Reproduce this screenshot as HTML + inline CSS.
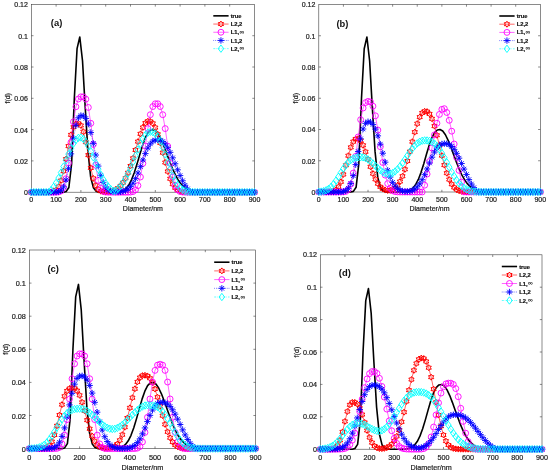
<!DOCTYPE html>
<html lang="en">
<head>
<meta charset="utf-8">
<title>Figure: recovered particle size distributions</title>
<style>
html,body{margin:0;padding:0;background:#fff;}
body{width:550px;height:473px;overflow:hidden;}
svg{display:block;filter:blur(0.3px);}
</style>
</head>
<body>
<svg width="550" height="473" viewBox="0 0 550 473" font-family="'Liberation Sans', Arial, Helvetica, sans-serif">
<rect width="550" height="473" fill="#fff"/>
<defs>
<circle id="mo" r="2.95" fill="none" stroke-width="0.9"/>
<polygon id="mh" points="0,-3 -0.87,-1.5 -2.6,-1.5 -1.73,-0 -2.6,1.5 -0.87,1.5 -0,3 0.87,1.5 2.6,1.5 1.73,0 2.6,-1.5 0.87,-1.5" fill="none" stroke-width="1.0"/>
<path id="ma" d="M-3.2,0H3.2M0,-3.2V3.2M-2.25,-2.25L2.25,2.25M-2.25,2.25L2.25,-2.25" fill="none" stroke-width="0.9"/>
<path id="md" d="M0,-3.7L2.75,0L0,3.7L-2.75,0Z" fill="none" stroke-width="0.9"/>
</defs>
<g id="plot-a">
<rect x="31.3" y="4.4" width="223.2" height="187.8" fill="none" stroke="#3c3c3c" stroke-width="0.6"/>
<path d="M56.1,192.2v-2.2M56.1,4.4v2.2M80.9,192.2v-2.2M80.9,4.4v2.2M105.7,192.2v-2.2M105.7,4.4v2.2M130.5,192.2v-2.2M130.5,4.4v2.2M155.3,192.2v-2.2M155.3,4.4v2.2M180.1,192.2v-2.2M180.1,4.4v2.2M204.9,192.2v-2.2M204.9,4.4v2.2M229.7,192.2v-2.2M229.7,4.4v2.2M31.3,160.9h2.2M254.5,160.9h-2.2M31.3,129.6h2.2M254.5,129.6h-2.2M31.3,98.3h2.2M254.5,98.3h-2.2M31.3,67h2.2M254.5,67h-2.2M31.3,35.7h2.2M254.5,35.7h-2.2" stroke="#3c3c3c" stroke-width="0.6" fill="none"/>
<g font-size="7" fill="#222222" stroke="#222222" stroke-width="0.2">
<g text-anchor="middle">
<text x="31.3" y="201.9">0</text>
<text x="56.1" y="201.9">100</text>
<text x="80.9" y="201.9">200</text>
<text x="105.7" y="201.9">300</text>
<text x="130.5" y="201.9">400</text>
<text x="155.3" y="201.9">500</text>
<text x="180.1" y="201.9">600</text>
<text x="204.9" y="201.9">700</text>
<text x="229.7" y="201.9">800</text>
<text x="254.5" y="201.9">900</text>
</g>
<g text-anchor="end">
<text x="27.9" y="195.15">0</text>
<text x="27.9" y="163.85">0.02</text>
<text x="27.9" y="132.55">0.04</text>
<text x="27.9" y="101.25">0.06</text>
<text x="27.9" y="69.95">0.08</text>
<text x="27.9" y="38.65">0.1</text>
<text x="27.9" y="7.35">0.12</text>
</g>
<text x="142.9" y="211.3" text-anchor="middle">Diameter/nm</text>
<text transform="translate(10.2,98.3) rotate(-90)" text-anchor="middle">f(d)</text>
</g>
<text x="50.8" y="25.9" font-size="9.4" font-weight="bold" fill="#111">(a)</text>
<polyline points="31.3,192.2 63.42,192.2 66.14,191.57 68.87,187.5 71.6,164.03 74.33,98.3 77.06,48.69 79.78,36.95 82.51,60.74 85.24,107.69 87.97,151.51 90.7,177.33 93.42,187.82 96.15,191.26 98.88,192.2 101.61,192.2 104.34,192.2 107.06,192.2 109.79,192.19 112.52,192.16 115.25,192.08 117.98,191.86 120.7,191.35 123.43,190.27 126.16,188.24 128.89,184.81 131.62,179.6 134.34,172.5 137.07,163.86 139.8,154.46 142.53,145.41 145.26,137.88 147.98,132.69 150.71,130.1 153.44,129.62 156.17,131.14 158.9,134.87 161.62,140.4 164.35,147.17 167.08,154.53 169.81,161.88 172.54,168.72 175.26,174.7 177.99,179.65 180.72,183.54 183.45,186.45 186.18,188.53 188.9,189.94 191.63,190.86 194.36,191.44 197.09,191.78 199.82,191.98 202.54,192.09 205.27,192.15 208,192.17 210.73,192.19 213.46,192.19 216.18,192.2 218.91,192.2 221.64,192.2 224.37,192.2 227.1,192.2 229.82,192.2 232.55,192.2 235.28,192.2 238.01,192.2 240.74,192.2 243.46,192.2 246.19,192.2 248.92,192.2 251.65,192.2 254.38,192.2 254.5,192.2" fill="none" stroke="#000" stroke-width="1.6" stroke-linejoin="round"/>
<g stroke="#ff0000">
<polyline points="31.3,192.2 33.78,192.2 36.26,192.2 38.74,192.2 41.22,192.2 43.7,192.2 46.18,192.19 48.66,192.15 51.14,191.97 53.62,191.42 56.1,189.92 58.58,186.62 61.06,180.53 63.54,171.14 66.02,159.06 68.5,146.14 70.98,134.85 73.46,127.19 75.94,123.77 78.42,123.39 80.9,125.45 83.38,131.7 85.86,142.16 88.34,155.11 90.82,167.94 93.3,178.4 95.78,185.44 98.26,189.37 100.74,191.16 103.22,191.8 105.7,191.89 108.18,191.73 110.66,191.37 113.14,190.74 115.62,189.72 118.1,188.15 120.58,185.85 123.06,182.61 125.54,178.27 128.02,172.73 130.5,166.01 132.98,158.3 135.46,149.99 137.94,141.61 140.42,133.86 142.9,127.47 145.38,123.09 147.86,121.2 150.34,121.44 152.82,123.35 155.3,127.59 157.78,134.25 160.26,142.9 162.74,152.68 165.22,162.53 167.7,171.44 170.18,178.74 172.66,184.15 175.14,187.77 177.62,189.98 180.1,191.18 182.58,191.78 185.06,192.04 187.54,192.15 190.02,192.18 192.5,192.2 194.98,192.2 197.46,192.2 199.94,192.2 202.42,192.2 204.9,192.2 207.38,192.2 209.86,192.2 212.34,192.2 214.82,192.2 217.3,192.2 219.78,192.2 222.26,192.2 224.74,192.2 227.22,192.2 229.7,192.2 232.18,192.2 234.66,192.2 237.14,192.2 239.62,192.2 242.1,192.2 244.58,192.2 247.06,192.2 249.54,192.2 252.02,192.2 254.5,192.2" fill="none" stroke-width="0.6"/>
<use href="#mh" x="31.3" y="192.2"/>
<use href="#mh" x="33.78" y="192.2"/>
<use href="#mh" x="36.26" y="192.2"/>
<use href="#mh" x="38.74" y="192.2"/>
<use href="#mh" x="41.22" y="192.2"/>
<use href="#mh" x="43.7" y="192.2"/>
<use href="#mh" x="46.18" y="192.19"/>
<use href="#mh" x="48.66" y="192.15"/>
<use href="#mh" x="51.14" y="191.97"/>
<use href="#mh" x="53.62" y="191.42"/>
<use href="#mh" x="56.1" y="189.92"/>
<use href="#mh" x="58.58" y="186.62"/>
<use href="#mh" x="61.06" y="180.53"/>
<use href="#mh" x="63.54" y="171.14"/>
<use href="#mh" x="66.02" y="159.06"/>
<use href="#mh" x="68.5" y="146.14"/>
<use href="#mh" x="70.98" y="134.85"/>
<use href="#mh" x="73.46" y="127.19"/>
<use href="#mh" x="75.94" y="123.77"/>
<use href="#mh" x="78.42" y="123.39"/>
<use href="#mh" x="80.9" y="125.45"/>
<use href="#mh" x="83.38" y="131.7"/>
<use href="#mh" x="85.86" y="142.16"/>
<use href="#mh" x="88.34" y="155.11"/>
<use href="#mh" x="90.82" y="167.94"/>
<use href="#mh" x="93.3" y="178.4"/>
<use href="#mh" x="95.78" y="185.44"/>
<use href="#mh" x="98.26" y="189.37"/>
<use href="#mh" x="100.74" y="191.16"/>
<use href="#mh" x="103.22" y="191.8"/>
<use href="#mh" x="105.7" y="191.89"/>
<use href="#mh" x="108.18" y="191.73"/>
<use href="#mh" x="110.66" y="191.37"/>
<use href="#mh" x="113.14" y="190.74"/>
<use href="#mh" x="115.62" y="189.72"/>
<use href="#mh" x="118.1" y="188.15"/>
<use href="#mh" x="120.58" y="185.85"/>
<use href="#mh" x="123.06" y="182.61"/>
<use href="#mh" x="125.54" y="178.27"/>
<use href="#mh" x="128.02" y="172.73"/>
<use href="#mh" x="130.5" y="166.01"/>
<use href="#mh" x="132.98" y="158.3"/>
<use href="#mh" x="135.46" y="149.99"/>
<use href="#mh" x="137.94" y="141.61"/>
<use href="#mh" x="140.42" y="133.86"/>
<use href="#mh" x="142.9" y="127.47"/>
<use href="#mh" x="145.38" y="123.09"/>
<use href="#mh" x="147.86" y="121.2"/>
<use href="#mh" x="150.34" y="121.44"/>
<use href="#mh" x="152.82" y="123.35"/>
<use href="#mh" x="155.3" y="127.59"/>
<use href="#mh" x="157.78" y="134.25"/>
<use href="#mh" x="160.26" y="142.9"/>
<use href="#mh" x="162.74" y="152.68"/>
<use href="#mh" x="165.22" y="162.53"/>
<use href="#mh" x="167.7" y="171.44"/>
<use href="#mh" x="170.18" y="178.74"/>
<use href="#mh" x="172.66" y="184.15"/>
<use href="#mh" x="175.14" y="187.77"/>
<use href="#mh" x="177.62" y="189.98"/>
<use href="#mh" x="180.1" y="191.18"/>
<use href="#mh" x="182.58" y="191.78"/>
<use href="#mh" x="185.06" y="192.04"/>
<use href="#mh" x="187.54" y="192.15"/>
<use href="#mh" x="190.02" y="192.18"/>
<use href="#mh" x="192.5" y="192.2"/>
<use href="#mh" x="194.98" y="192.2"/>
<use href="#mh" x="197.46" y="192.2"/>
<use href="#mh" x="199.94" y="192.2"/>
<use href="#mh" x="202.42" y="192.2"/>
<use href="#mh" x="204.9" y="192.2"/>
<use href="#mh" x="207.38" y="192.2"/>
<use href="#mh" x="209.86" y="192.2"/>
<use href="#mh" x="212.34" y="192.2"/>
<use href="#mh" x="214.82" y="192.2"/>
<use href="#mh" x="217.3" y="192.2"/>
<use href="#mh" x="219.78" y="192.2"/>
<use href="#mh" x="222.26" y="192.2"/>
<use href="#mh" x="224.74" y="192.2"/>
<use href="#mh" x="227.22" y="192.2"/>
<use href="#mh" x="229.7" y="192.2"/>
<use href="#mh" x="232.18" y="192.2"/>
<use href="#mh" x="234.66" y="192.2"/>
<use href="#mh" x="237.14" y="192.2"/>
<use href="#mh" x="239.62" y="192.2"/>
<use href="#mh" x="242.1" y="192.2"/>
<use href="#mh" x="244.58" y="192.2"/>
<use href="#mh" x="247.06" y="192.2"/>
<use href="#mh" x="249.54" y="192.2"/>
<use href="#mh" x="252.02" y="192.2"/>
<use href="#mh" x="254.5" y="192.2"/>
</g>
<g stroke="#ff00ff">
<polyline points="31.3,192.2 33.78,192.2 36.26,192.2 38.74,192.2 41.22,192.2 43.7,192.2 46.18,192.2 48.66,192.2 51.14,192.2 53.62,192.2 56.1,192.17 58.58,191.99 61.06,191 63.54,187.47 66.02,178.69 68.5,163.01 70.98,142.31 73.46,121.85 75.94,106.79 78.42,99 80.9,96.82 83.38,96.83 85.86,99.15 88.34,107.43 90.82,123.3 93.3,144.47 95.78,165.27 98.26,180.38 100.74,188.34 103.22,191.31 105.7,192.06 108.18,192.19 110.66,192.2 113.14,192.2 115.62,192.2 118.1,192.2 120.58,192.2 123.06,192.2 125.54,192.2 128.02,192.18 130.5,192.06 132.98,191.55 135.46,189.87 137.94,185.58 140.42,177.01 142.9,163.38 145.38,146.11 147.86,128.61 150.34,114.7 152.82,106.55 155.3,103.77 157.78,103.77 160.26,106.55 162.74,114.7 165.22,128.61 167.7,146.11 170.18,163.38 172.66,177.01 175.14,185.58 177.62,189.87 180.1,191.55 182.58,192.06 185.06,192.18 187.54,192.2 190.02,192.2 192.5,192.2 194.98,192.2 197.46,192.2 199.94,192.2 202.42,192.2 204.9,192.2 207.38,192.2 209.86,192.2 212.34,192.2 214.82,192.2 217.3,192.2 219.78,192.2 222.26,192.2 224.74,192.2 227.22,192.2 229.7,192.2 232.18,192.2 234.66,192.2 237.14,192.2 239.62,192.2 242.1,192.2 244.58,192.2 247.06,192.2 249.54,192.2 252.02,192.2 254.5,192.2" fill="none" stroke-width="0.6"/>
<use href="#mo" x="31.3" y="192.2"/>
<use href="#mo" x="33.78" y="192.2"/>
<use href="#mo" x="36.26" y="192.2"/>
<use href="#mo" x="38.74" y="192.2"/>
<use href="#mo" x="41.22" y="192.2"/>
<use href="#mo" x="43.7" y="192.2"/>
<use href="#mo" x="46.18" y="192.2"/>
<use href="#mo" x="48.66" y="192.2"/>
<use href="#mo" x="51.14" y="192.2"/>
<use href="#mo" x="53.62" y="192.2"/>
<use href="#mo" x="56.1" y="192.17"/>
<use href="#mo" x="58.58" y="191.99"/>
<use href="#mo" x="61.06" y="191"/>
<use href="#mo" x="63.54" y="187.47"/>
<use href="#mo" x="66.02" y="178.69"/>
<use href="#mo" x="68.5" y="163.01"/>
<use href="#mo" x="70.98" y="142.31"/>
<use href="#mo" x="73.46" y="121.85"/>
<use href="#mo" x="75.94" y="106.79"/>
<use href="#mo" x="78.42" y="99"/>
<use href="#mo" x="80.9" y="96.82"/>
<use href="#mo" x="83.38" y="96.83"/>
<use href="#mo" x="85.86" y="99.15"/>
<use href="#mo" x="88.34" y="107.43"/>
<use href="#mo" x="90.82" y="123.3"/>
<use href="#mo" x="93.3" y="144.47"/>
<use href="#mo" x="95.78" y="165.27"/>
<use href="#mo" x="98.26" y="180.38"/>
<use href="#mo" x="100.74" y="188.34"/>
<use href="#mo" x="103.22" y="191.31"/>
<use href="#mo" x="105.7" y="192.06"/>
<use href="#mo" x="108.18" y="192.19"/>
<use href="#mo" x="110.66" y="192.2"/>
<use href="#mo" x="113.14" y="192.2"/>
<use href="#mo" x="115.62" y="192.2"/>
<use href="#mo" x="118.1" y="192.2"/>
<use href="#mo" x="120.58" y="192.2"/>
<use href="#mo" x="123.06" y="192.2"/>
<use href="#mo" x="125.54" y="192.2"/>
<use href="#mo" x="128.02" y="192.18"/>
<use href="#mo" x="130.5" y="192.06"/>
<use href="#mo" x="132.98" y="191.55"/>
<use href="#mo" x="135.46" y="189.87"/>
<use href="#mo" x="137.94" y="185.58"/>
<use href="#mo" x="140.42" y="177.01"/>
<use href="#mo" x="142.9" y="163.38"/>
<use href="#mo" x="145.38" y="146.11"/>
<use href="#mo" x="147.86" y="128.61"/>
<use href="#mo" x="150.34" y="114.7"/>
<use href="#mo" x="152.82" y="106.55"/>
<use href="#mo" x="155.3" y="103.77"/>
<use href="#mo" x="157.78" y="103.77"/>
<use href="#mo" x="160.26" y="106.55"/>
<use href="#mo" x="162.74" y="114.7"/>
<use href="#mo" x="165.22" y="128.61"/>
<use href="#mo" x="167.7" y="146.11"/>
<use href="#mo" x="170.18" y="163.38"/>
<use href="#mo" x="172.66" y="177.01"/>
<use href="#mo" x="175.14" y="185.58"/>
<use href="#mo" x="177.62" y="189.87"/>
<use href="#mo" x="180.1" y="191.55"/>
<use href="#mo" x="182.58" y="192.06"/>
<use href="#mo" x="185.06" y="192.18"/>
<use href="#mo" x="187.54" y="192.2"/>
<use href="#mo" x="190.02" y="192.2"/>
<use href="#mo" x="192.5" y="192.2"/>
<use href="#mo" x="194.98" y="192.2"/>
<use href="#mo" x="197.46" y="192.2"/>
<use href="#mo" x="199.94" y="192.2"/>
<use href="#mo" x="202.42" y="192.2"/>
<use href="#mo" x="204.9" y="192.2"/>
<use href="#mo" x="207.38" y="192.2"/>
<use href="#mo" x="209.86" y="192.2"/>
<use href="#mo" x="212.34" y="192.2"/>
<use href="#mo" x="214.82" y="192.2"/>
<use href="#mo" x="217.3" y="192.2"/>
<use href="#mo" x="219.78" y="192.2"/>
<use href="#mo" x="222.26" y="192.2"/>
<use href="#mo" x="224.74" y="192.2"/>
<use href="#mo" x="227.22" y="192.2"/>
<use href="#mo" x="229.7" y="192.2"/>
<use href="#mo" x="232.18" y="192.2"/>
<use href="#mo" x="234.66" y="192.2"/>
<use href="#mo" x="237.14" y="192.2"/>
<use href="#mo" x="239.62" y="192.2"/>
<use href="#mo" x="242.1" y="192.2"/>
<use href="#mo" x="244.58" y="192.2"/>
<use href="#mo" x="247.06" y="192.2"/>
<use href="#mo" x="249.54" y="192.2"/>
<use href="#mo" x="252.02" y="192.2"/>
<use href="#mo" x="254.5" y="192.2"/>
</g>
<g stroke="#0000ff">
<polyline points="31.3,192.2 33.78,192.2 36.26,192.2 38.74,192.2 41.22,192.2 43.7,192.2 46.18,192.2 48.66,192.2 51.14,192.2 53.62,192.18 56.1,192.07 58.58,191.64 61.06,190.29 63.54,186.87 66.02,179.96 68.5,168.69 70.98,153.86 73.46,138.23 75.94,125.38 78.42,117.8 80.9,115.54 83.38,115.91 85.86,118.44 88.34,124 90.82,132.57 93.3,143.36 95.78,155.02 98.26,166.09 100.74,175.4 103.22,182.36 105.7,186.98 108.18,189.7 110.66,191.12 113.14,191.77 115.62,191.99 118.1,191.98 120.58,191.77 123.06,191.3 125.54,190.42 128.02,188.93 130.5,186.58 132.98,183.18 135.46,178.63 137.94,173.03 140.42,166.65 142.9,159.98 145.38,153.6 147.86,148.09 150.34,143.89 152.82,141.2 155.3,139.97 157.78,139.78 160.26,140.19 162.74,141.55 165.22,144.04 167.7,147.69 170.18,152.37 172.66,157.84 175.14,163.78 177.62,169.8 180.1,175.57 182.58,180.78 185.06,185.25 187.54,188.89 190.02,191.69 192.5,192.2 194.98,192.2 197.46,192.2 199.94,192.2 202.42,192.2 204.9,192.2 207.38,192.2 209.86,192.2 212.34,192.2 214.82,192.2 217.3,192.2 219.78,192.2 222.26,192.2 224.74,192.2 227.22,192.2 229.7,192.2 232.18,192.2 234.66,192.2 237.14,192.2 239.62,192.2 242.1,192.2 244.58,192.2 247.06,192.2 249.54,192.2 252.02,192.2 254.5,192.2" fill="none" stroke-width="0.6" stroke-dasharray="0.8,1"/>
<use href="#ma" x="31.3" y="192.2"/>
<use href="#ma" x="33.78" y="192.2"/>
<use href="#ma" x="36.26" y="192.2"/>
<use href="#ma" x="38.74" y="192.2"/>
<use href="#ma" x="41.22" y="192.2"/>
<use href="#ma" x="43.7" y="192.2"/>
<use href="#ma" x="46.18" y="192.2"/>
<use href="#ma" x="48.66" y="192.2"/>
<use href="#ma" x="51.14" y="192.2"/>
<use href="#ma" x="53.62" y="192.18"/>
<use href="#ma" x="56.1" y="192.07"/>
<use href="#ma" x="58.58" y="191.64"/>
<use href="#ma" x="61.06" y="190.29"/>
<use href="#ma" x="63.54" y="186.87"/>
<use href="#ma" x="66.02" y="179.96"/>
<use href="#ma" x="68.5" y="168.69"/>
<use href="#ma" x="70.98" y="153.86"/>
<use href="#ma" x="73.46" y="138.23"/>
<use href="#ma" x="75.94" y="125.38"/>
<use href="#ma" x="78.42" y="117.8"/>
<use href="#ma" x="80.9" y="115.54"/>
<use href="#ma" x="83.38" y="115.91"/>
<use href="#ma" x="85.86" y="118.44"/>
<use href="#ma" x="88.34" y="124"/>
<use href="#ma" x="90.82" y="132.57"/>
<use href="#ma" x="93.3" y="143.36"/>
<use href="#ma" x="95.78" y="155.02"/>
<use href="#ma" x="98.26" y="166.09"/>
<use href="#ma" x="100.74" y="175.4"/>
<use href="#ma" x="103.22" y="182.36"/>
<use href="#ma" x="105.7" y="186.98"/>
<use href="#ma" x="108.18" y="189.7"/>
<use href="#ma" x="110.66" y="191.12"/>
<use href="#ma" x="113.14" y="191.77"/>
<use href="#ma" x="115.62" y="191.99"/>
<use href="#ma" x="118.1" y="191.98"/>
<use href="#ma" x="120.58" y="191.77"/>
<use href="#ma" x="123.06" y="191.3"/>
<use href="#ma" x="125.54" y="190.42"/>
<use href="#ma" x="128.02" y="188.93"/>
<use href="#ma" x="130.5" y="186.58"/>
<use href="#ma" x="132.98" y="183.18"/>
<use href="#ma" x="135.46" y="178.63"/>
<use href="#ma" x="137.94" y="173.03"/>
<use href="#ma" x="140.42" y="166.65"/>
<use href="#ma" x="142.9" y="159.98"/>
<use href="#ma" x="145.38" y="153.6"/>
<use href="#ma" x="147.86" y="148.09"/>
<use href="#ma" x="150.34" y="143.89"/>
<use href="#ma" x="152.82" y="141.2"/>
<use href="#ma" x="155.3" y="139.97"/>
<use href="#ma" x="157.78" y="139.78"/>
<use href="#ma" x="160.26" y="140.19"/>
<use href="#ma" x="162.74" y="141.55"/>
<use href="#ma" x="165.22" y="144.04"/>
<use href="#ma" x="167.7" y="147.69"/>
<use href="#ma" x="170.18" y="152.37"/>
<use href="#ma" x="172.66" y="157.84"/>
<use href="#ma" x="175.14" y="163.78"/>
<use href="#ma" x="177.62" y="169.8"/>
<use href="#ma" x="180.1" y="175.57"/>
<use href="#ma" x="182.58" y="180.78"/>
<use href="#ma" x="185.06" y="185.25"/>
<use href="#ma" x="187.54" y="188.89"/>
<use href="#ma" x="190.02" y="191.69"/>
<use href="#ma" x="192.5" y="192.2"/>
<use href="#ma" x="194.98" y="192.2"/>
<use href="#ma" x="197.46" y="192.2"/>
<use href="#ma" x="199.94" y="192.2"/>
<use href="#ma" x="202.42" y="192.2"/>
<use href="#ma" x="204.9" y="192.2"/>
<use href="#ma" x="207.38" y="192.2"/>
<use href="#ma" x="209.86" y="192.2"/>
<use href="#ma" x="212.34" y="192.2"/>
<use href="#ma" x="214.82" y="192.2"/>
<use href="#ma" x="217.3" y="192.2"/>
<use href="#ma" x="219.78" y="192.2"/>
<use href="#ma" x="222.26" y="192.2"/>
<use href="#ma" x="224.74" y="192.2"/>
<use href="#ma" x="227.22" y="192.2"/>
<use href="#ma" x="229.7" y="192.2"/>
<use href="#ma" x="232.18" y="192.2"/>
<use href="#ma" x="234.66" y="192.2"/>
<use href="#ma" x="237.14" y="192.2"/>
<use href="#ma" x="239.62" y="192.2"/>
<use href="#ma" x="242.1" y="192.2"/>
<use href="#ma" x="244.58" y="192.2"/>
<use href="#ma" x="247.06" y="192.2"/>
<use href="#ma" x="249.54" y="192.2"/>
<use href="#ma" x="252.02" y="192.2"/>
<use href="#ma" x="254.5" y="192.2"/>
</g>
<g stroke="#00ffff">
<polyline points="31.3,192.2 33.78,192.2 36.26,192.2 38.74,192.2 41.22,192.2 43.7,192.2 46.18,192.2 48.66,192.2 51.14,190.17 53.62,186.91 56.1,182.87 58.58,178.07 61.06,172.57 63.54,166.56 66.02,160.29 68.5,154.09 70.98,148.37 73.46,143.52 75.94,139.92 78.42,137.85 80.9,137.5 83.38,138.87 85.86,141.83 88.34,146.13 90.82,151.42 93.3,157.28 95.78,163.33 98.26,169.19 100.74,174.59 103.22,179.33 105.7,183.32 108.18,186.55 110.66,189.06 113.14,190.94 115.62,190.82 118.1,188.72 120.58,185.99 123.06,182.55 125.54,178.39 128.02,173.5 130.5,167.97 132.98,161.97 135.46,155.73 137.94,149.57 140.42,143.82 142.9,138.86 145.38,135.04 147.86,132.62 150.34,131.79 152.82,132.11 155.3,133.59 157.78,136.62 160.26,141.29 162.74,147.4 165.22,154.5 167.7,162 170.18,169.25 172.66,175.72 175.14,181.06 177.62,185.13 180.1,188 182.58,189.88 185.06,191 187.54,191.63 190.02,191.95 192.5,192.1 194.98,192.16 197.46,192.19 199.94,192.2 202.42,192.2 204.9,192.2 207.38,192.2 209.86,192.2 212.34,192.2 214.82,192.2 217.3,192.2 219.78,192.2 222.26,192.2 224.74,192.2 227.22,192.2 229.7,192.2 232.18,192.2 234.66,192.2 237.14,192.2 239.62,192.2 242.1,192.2 244.58,192.2 247.06,192.2 249.54,192.2 252.02,192.2 254.5,192.2" fill="none" stroke-width="0.6" stroke-dasharray="2,1,0.6,1"/>
<use href="#md" x="31.3" y="192.2"/>
<use href="#md" x="33.78" y="192.2"/>
<use href="#md" x="36.26" y="192.2"/>
<use href="#md" x="38.74" y="192.2"/>
<use href="#md" x="41.22" y="192.2"/>
<use href="#md" x="43.7" y="192.2"/>
<use href="#md" x="46.18" y="192.2"/>
<use href="#md" x="48.66" y="192.2"/>
<use href="#md" x="51.14" y="190.17"/>
<use href="#md" x="53.62" y="186.91"/>
<use href="#md" x="56.1" y="182.87"/>
<use href="#md" x="58.58" y="178.07"/>
<use href="#md" x="61.06" y="172.57"/>
<use href="#md" x="63.54" y="166.56"/>
<use href="#md" x="66.02" y="160.29"/>
<use href="#md" x="68.5" y="154.09"/>
<use href="#md" x="70.98" y="148.37"/>
<use href="#md" x="73.46" y="143.52"/>
<use href="#md" x="75.94" y="139.92"/>
<use href="#md" x="78.42" y="137.85"/>
<use href="#md" x="80.9" y="137.5"/>
<use href="#md" x="83.38" y="138.87"/>
<use href="#md" x="85.86" y="141.83"/>
<use href="#md" x="88.34" y="146.13"/>
<use href="#md" x="90.82" y="151.42"/>
<use href="#md" x="93.3" y="157.28"/>
<use href="#md" x="95.78" y="163.33"/>
<use href="#md" x="98.26" y="169.19"/>
<use href="#md" x="100.74" y="174.59"/>
<use href="#md" x="103.22" y="179.33"/>
<use href="#md" x="105.7" y="183.32"/>
<use href="#md" x="108.18" y="186.55"/>
<use href="#md" x="110.66" y="189.06"/>
<use href="#md" x="113.14" y="190.94"/>
<use href="#md" x="115.62" y="190.82"/>
<use href="#md" x="118.1" y="188.72"/>
<use href="#md" x="120.58" y="185.99"/>
<use href="#md" x="123.06" y="182.55"/>
<use href="#md" x="125.54" y="178.39"/>
<use href="#md" x="128.02" y="173.5"/>
<use href="#md" x="130.5" y="167.97"/>
<use href="#md" x="132.98" y="161.97"/>
<use href="#md" x="135.46" y="155.73"/>
<use href="#md" x="137.94" y="149.57"/>
<use href="#md" x="140.42" y="143.82"/>
<use href="#md" x="142.9" y="138.86"/>
<use href="#md" x="145.38" y="135.04"/>
<use href="#md" x="147.86" y="132.62"/>
<use href="#md" x="150.34" y="131.79"/>
<use href="#md" x="152.82" y="132.11"/>
<use href="#md" x="155.3" y="133.59"/>
<use href="#md" x="157.78" y="136.62"/>
<use href="#md" x="160.26" y="141.29"/>
<use href="#md" x="162.74" y="147.4"/>
<use href="#md" x="165.22" y="154.5"/>
<use href="#md" x="167.7" y="162"/>
<use href="#md" x="170.18" y="169.25"/>
<use href="#md" x="172.66" y="175.72"/>
<use href="#md" x="175.14" y="181.06"/>
<use href="#md" x="177.62" y="185.13"/>
<use href="#md" x="180.1" y="188"/>
<use href="#md" x="182.58" y="189.88"/>
<use href="#md" x="185.06" y="191"/>
<use href="#md" x="187.54" y="191.63"/>
<use href="#md" x="190.02" y="191.95"/>
<use href="#md" x="192.5" y="192.1"/>
<use href="#md" x="194.98" y="192.16"/>
<use href="#md" x="197.46" y="192.19"/>
<use href="#md" x="199.94" y="192.2"/>
<use href="#md" x="202.42" y="192.2"/>
<use href="#md" x="204.9" y="192.2"/>
<use href="#md" x="207.38" y="192.2"/>
<use href="#md" x="209.86" y="192.2"/>
<use href="#md" x="212.34" y="192.2"/>
<use href="#md" x="214.82" y="192.2"/>
<use href="#md" x="217.3" y="192.2"/>
<use href="#md" x="219.78" y="192.2"/>
<use href="#md" x="222.26" y="192.2"/>
<use href="#md" x="224.74" y="192.2"/>
<use href="#md" x="227.22" y="192.2"/>
<use href="#md" x="229.7" y="192.2"/>
<use href="#md" x="232.18" y="192.2"/>
<use href="#md" x="234.66" y="192.2"/>
<use href="#md" x="237.14" y="192.2"/>
<use href="#md" x="239.62" y="192.2"/>
<use href="#md" x="242.1" y="192.2"/>
<use href="#md" x="244.58" y="192.2"/>
<use href="#md" x="247.06" y="192.2"/>
<use href="#md" x="249.54" y="192.2"/>
<use href="#md" x="252.02" y="192.2"/>
<use href="#md" x="254.5" y="192.2"/>
</g>
<g font-size="5.75" font-weight="bold" fill="#111" stroke-width="0.2">
<path d="M213.3,15.85h15.3" stroke="#000" stroke-width="1.6"/>
<text x="230.7" y="17.9" stroke="#111">true</text>
<g stroke="#ff0000"><path d="M213.3,24.05h15.3" stroke-width="0.6"/><use href="#mh" x="220.95" y="24.05"/></g>
<text x="230.7" y="26.1" stroke="#111">L2,2</text>
<g stroke="#ff00ff"><path d="M213.3,32.25h15.3" stroke-width="0.6"/><use href="#mo" x="220.95" y="32.25"/></g>
<text x="230.7" y="34.3" stroke="#111">L1,<tspan dx="0.5" dy="-0.5" font-size="6.4" stroke="none">∞</tspan></text>
<g stroke="#0000ff"><path d="M213.3,40.45h15.3" stroke-width="0.6" stroke-dasharray="0.8,1"/><use href="#ma" x="220.95" y="40.45"/></g>
<text x="230.7" y="42.5" stroke="#111">L1,2</text>
<g stroke="#00ffff"><path d="M213.3,48.65h15.3" stroke-width="0.6" stroke-dasharray="2,1,0.6,1"/><use href="#md" x="220.95" y="48.65"/></g>
<text x="230.7" y="50.7" stroke="#111">L2,<tspan dx="0.5" dy="-0.5" font-size="6.4" stroke="none">∞</tspan></text>
</g>
</g>
<g id="plot-b">
<rect x="318.8" y="4.5" width="221.5" height="187.5" fill="none" stroke="#3c3c3c" stroke-width="0.6"/>
<path d="M343.41,192v-2.2M343.41,4.5v2.2M368.02,192v-2.2M368.02,4.5v2.2M392.63,192v-2.2M392.63,4.5v2.2M417.24,192v-2.2M417.24,4.5v2.2M441.86,192v-2.2M441.86,4.5v2.2M466.47,192v-2.2M466.47,4.5v2.2M491.08,192v-2.2M491.08,4.5v2.2M515.69,192v-2.2M515.69,4.5v2.2M318.8,160.75h2.2M540.3,160.75h-2.2M318.8,129.5h2.2M540.3,129.5h-2.2M318.8,98.25h2.2M540.3,98.25h-2.2M318.8,67h2.2M540.3,67h-2.2M318.8,35.75h2.2M540.3,35.75h-2.2" stroke="#3c3c3c" stroke-width="0.6" fill="none"/>
<g font-size="7" fill="#222222" stroke="#222222" stroke-width="0.2">
<g text-anchor="middle">
<text x="318.8" y="201.8">0</text>
<text x="343.41" y="201.8">100</text>
<text x="368.02" y="201.8">200</text>
<text x="392.63" y="201.8">300</text>
<text x="417.24" y="201.8">400</text>
<text x="441.86" y="201.8">500</text>
<text x="466.47" y="201.8">600</text>
<text x="491.08" y="201.8">700</text>
<text x="515.69" y="201.8">800</text>
<text x="540.3" y="201.8">900</text>
</g>
<g text-anchor="end">
<text x="315.4" y="194.95">0</text>
<text x="315.4" y="163.7">0.02</text>
<text x="315.4" y="132.45">0.04</text>
<text x="315.4" y="101.2">0.06</text>
<text x="315.4" y="69.95">0.08</text>
<text x="315.4" y="38.7">0.1</text>
<text x="315.4" y="7.45">0.12</text>
</g>
<text x="429.55" y="211.3" text-anchor="middle">Diameter/nm</text>
<text transform="translate(297.7,98.25) rotate(-90)" text-anchor="middle">f(d)</text>
</g>
<text x="336.5" y="26.9" font-size="9.4" font-weight="bold" fill="#111">(b)</text>
<polyline points="318.8,192 350.67,192 353.38,191.38 356.09,187.31 358.79,163.88 361.5,98.25 364.21,48.72 366.91,37 369.62,60.75 372.33,107.62 375.04,151.38 377.74,177.16 380.45,187.62 383.16,191.06 385.87,192 388.57,192 391.28,192 393.99,192 396.69,191.99 399.4,191.96 402.11,191.88 404.82,191.66 407.52,191.15 410.23,190.08 412.94,188.05 415.64,184.62 418.35,179.42 421.06,172.34 423.77,163.7 426.47,154.32 429.18,145.29 431.89,137.77 434.6,132.58 437.3,130 440.01,129.52 442.72,131.03 445.42,134.76 448.13,140.28 450.84,147.04 453.55,154.39 456.25,161.73 458.96,168.56 461.67,174.53 464.37,179.47 467.08,183.36 469.79,186.26 472.5,188.33 475.2,189.75 477.91,190.67 480.62,191.24 483.33,191.58 486.03,191.78 488.74,191.89 491.45,191.95 494.15,191.97 496.86,191.99 499.57,192 502.28,192 504.98,192 507.69,192 510.4,192 513.1,192 515.81,192 518.52,192 521.23,192 523.93,192 526.64,192 529.35,192 532.06,192 534.76,192 537.47,192 540.18,192 540.3,192" fill="none" stroke="#000" stroke-width="1.6" stroke-linejoin="round"/>
<g stroke="#ff0000">
<polyline points="318.8,192 321.26,192 323.72,192 326.18,191.98 328.64,191.92 331.11,191.72 333.57,191.14 336.03,189.72 338.49,186.82 340.95,181.8 343.41,174.43 345.87,165.28 348.33,155.69 350.79,147.37 353.26,141.66 355.72,138.98 358.18,138.62 360.64,140.65 363.1,145.27 365.56,151.77 368.02,159.23 370.48,166.75 372.94,173.59 375.41,179.3 377.87,183.69 380.33,186.83 382.79,188.88 385.25,190.06 387.71,190.53 390.17,190.37 392.63,189.56 395.09,187.97 397.56,185.37 400.02,181.53 402.48,176.21 404.94,169.34 407.4,161.02 409.86,151.61 412.32,141.71 414.78,132.11 417.24,123.65 419.71,117.09 422.17,112.94 424.63,111.29 427.09,111.58 429.55,113.92 432.01,118.81 434.47,126.11 436.93,135.26 439.39,145.42 441.86,155.65 444.32,165.1 446.78,173.17 449.24,179.55 451.7,184.25 454.16,187.46 456.62,189.5 459.08,190.71 461.54,191.38 464.01,191.72 466.47,191.88 468.93,191.95 471.39,191.98 473.85,191.99 476.31,192 478.77,192 481.23,192 483.69,192 486.16,192 488.62,192 491.08,192 493.54,192 496,192 498.46,192 500.92,192 503.38,192 505.84,192 508.31,192 510.77,192 513.23,192 515.69,192 518.15,192 520.61,192 523.07,192 525.53,192 527.99,192 530.46,192 532.92,192 535.38,192 537.84,192 540.3,192" fill="none" stroke-width="0.6"/>
<use href="#mh" x="318.8" y="192"/>
<use href="#mh" x="321.26" y="192"/>
<use href="#mh" x="323.72" y="192"/>
<use href="#mh" x="326.18" y="191.98"/>
<use href="#mh" x="328.64" y="191.92"/>
<use href="#mh" x="331.11" y="191.72"/>
<use href="#mh" x="333.57" y="191.14"/>
<use href="#mh" x="336.03" y="189.72"/>
<use href="#mh" x="338.49" y="186.82"/>
<use href="#mh" x="340.95" y="181.8"/>
<use href="#mh" x="343.41" y="174.43"/>
<use href="#mh" x="345.87" y="165.28"/>
<use href="#mh" x="348.33" y="155.69"/>
<use href="#mh" x="350.79" y="147.37"/>
<use href="#mh" x="353.26" y="141.66"/>
<use href="#mh" x="355.72" y="138.98"/>
<use href="#mh" x="358.18" y="138.62"/>
<use href="#mh" x="360.64" y="140.65"/>
<use href="#mh" x="363.1" y="145.27"/>
<use href="#mh" x="365.56" y="151.77"/>
<use href="#mh" x="368.02" y="159.23"/>
<use href="#mh" x="370.48" y="166.75"/>
<use href="#mh" x="372.94" y="173.59"/>
<use href="#mh" x="375.41" y="179.3"/>
<use href="#mh" x="377.87" y="183.69"/>
<use href="#mh" x="380.33" y="186.83"/>
<use href="#mh" x="382.79" y="188.88"/>
<use href="#mh" x="385.25" y="190.06"/>
<use href="#mh" x="387.71" y="190.53"/>
<use href="#mh" x="390.17" y="190.37"/>
<use href="#mh" x="392.63" y="189.56"/>
<use href="#mh" x="395.09" y="187.97"/>
<use href="#mh" x="397.56" y="185.37"/>
<use href="#mh" x="400.02" y="181.53"/>
<use href="#mh" x="402.48" y="176.21"/>
<use href="#mh" x="404.94" y="169.34"/>
<use href="#mh" x="407.4" y="161.02"/>
<use href="#mh" x="409.86" y="151.61"/>
<use href="#mh" x="412.32" y="141.71"/>
<use href="#mh" x="414.78" y="132.11"/>
<use href="#mh" x="417.24" y="123.65"/>
<use href="#mh" x="419.71" y="117.09"/>
<use href="#mh" x="422.17" y="112.94"/>
<use href="#mh" x="424.63" y="111.29"/>
<use href="#mh" x="427.09" y="111.58"/>
<use href="#mh" x="429.55" y="113.92"/>
<use href="#mh" x="432.01" y="118.81"/>
<use href="#mh" x="434.47" y="126.11"/>
<use href="#mh" x="436.93" y="135.26"/>
<use href="#mh" x="439.39" y="145.42"/>
<use href="#mh" x="441.86" y="155.65"/>
<use href="#mh" x="444.32" y="165.1"/>
<use href="#mh" x="446.78" y="173.17"/>
<use href="#mh" x="449.24" y="179.55"/>
<use href="#mh" x="451.7" y="184.25"/>
<use href="#mh" x="454.16" y="187.46"/>
<use href="#mh" x="456.62" y="189.5"/>
<use href="#mh" x="459.08" y="190.71"/>
<use href="#mh" x="461.54" y="191.38"/>
<use href="#mh" x="464.01" y="191.72"/>
<use href="#mh" x="466.47" y="191.88"/>
<use href="#mh" x="468.93" y="191.95"/>
<use href="#mh" x="471.39" y="191.98"/>
<use href="#mh" x="473.85" y="191.99"/>
<use href="#mh" x="476.31" y="192"/>
<use href="#mh" x="478.77" y="192"/>
<use href="#mh" x="481.23" y="192"/>
<use href="#mh" x="483.69" y="192"/>
<use href="#mh" x="486.16" y="192"/>
<use href="#mh" x="488.62" y="192"/>
<use href="#mh" x="491.08" y="192"/>
<use href="#mh" x="493.54" y="192"/>
<use href="#mh" x="496" y="192"/>
<use href="#mh" x="498.46" y="192"/>
<use href="#mh" x="500.92" y="192"/>
<use href="#mh" x="503.38" y="192"/>
<use href="#mh" x="505.84" y="192"/>
<use href="#mh" x="508.31" y="192"/>
<use href="#mh" x="510.77" y="192"/>
<use href="#mh" x="513.23" y="192"/>
<use href="#mh" x="515.69" y="192"/>
<use href="#mh" x="518.15" y="192"/>
<use href="#mh" x="520.61" y="192"/>
<use href="#mh" x="523.07" y="192"/>
<use href="#mh" x="525.53" y="192"/>
<use href="#mh" x="527.99" y="192"/>
<use href="#mh" x="530.46" y="192"/>
<use href="#mh" x="532.92" y="192"/>
<use href="#mh" x="535.38" y="192"/>
<use href="#mh" x="537.84" y="192"/>
<use href="#mh" x="540.3" y="192"/>
</g>
<g stroke="#ff00ff">
<polyline points="318.8,192 321.26,192 323.72,192 326.18,192 328.64,192 331.11,192 333.57,192 336.03,192 338.49,192 340.95,191.99 343.41,191.9 345.87,191.41 348.33,189.48 350.79,184.09 353.26,173.09 355.72,156.35 358.18,136.94 360.64,119.65 363.1,108.03 365.56,102.61 368.02,101.39 370.48,101.91 372.94,106.19 375.41,115.8 377.87,130.1 380.33,146.69 382.79,162.51 385.25,175.14 387.71,183.62 390.17,188.42 392.63,190.7 395.09,191.6 397.56,191.9 400.02,191.98 402.48,192 404.94,192 407.4,192 409.86,192 412.32,192 414.78,192 417.24,192 419.71,192 422.17,192 424.63,185.22 427.09,174.08 429.55,161.43 432.01,148.01 434.47,134.89 436.93,123.28 439.39,114.44 441.86,109.36 444.32,108.68 446.78,112.48 449.24,120.29 451.7,131.19 454.16,143.99 456.62,157.44 459.08,170.41 461.54,182.06 464.01,191.88 466.47,192 468.93,192 471.39,192 473.85,192 476.31,192 478.77,192 481.23,192 483.69,192 486.16,192 488.62,192 491.08,192 493.54,192 496,192 498.46,192 500.92,192 503.38,192 505.84,192 508.31,192 510.77,192 513.23,192 515.69,192 518.15,192 520.61,192 523.07,192 525.53,192 527.99,192 530.46,192 532.92,192 535.38,192 537.84,192 540.3,192" fill="none" stroke-width="0.6"/>
<use href="#mo" x="318.8" y="192"/>
<use href="#mo" x="321.26" y="192"/>
<use href="#mo" x="323.72" y="192"/>
<use href="#mo" x="326.18" y="192"/>
<use href="#mo" x="328.64" y="192"/>
<use href="#mo" x="331.11" y="192"/>
<use href="#mo" x="333.57" y="192"/>
<use href="#mo" x="336.03" y="192"/>
<use href="#mo" x="338.49" y="192"/>
<use href="#mo" x="340.95" y="191.99"/>
<use href="#mo" x="343.41" y="191.9"/>
<use href="#mo" x="345.87" y="191.41"/>
<use href="#mo" x="348.33" y="189.48"/>
<use href="#mo" x="350.79" y="184.09"/>
<use href="#mo" x="353.26" y="173.09"/>
<use href="#mo" x="355.72" y="156.35"/>
<use href="#mo" x="358.18" y="136.94"/>
<use href="#mo" x="360.64" y="119.65"/>
<use href="#mo" x="363.1" y="108.03"/>
<use href="#mo" x="365.56" y="102.61"/>
<use href="#mo" x="368.02" y="101.39"/>
<use href="#mo" x="370.48" y="101.91"/>
<use href="#mo" x="372.94" y="106.19"/>
<use href="#mo" x="375.41" y="115.8"/>
<use href="#mo" x="377.87" y="130.1"/>
<use href="#mo" x="380.33" y="146.69"/>
<use href="#mo" x="382.79" y="162.51"/>
<use href="#mo" x="385.25" y="175.14"/>
<use href="#mo" x="387.71" y="183.62"/>
<use href="#mo" x="390.17" y="188.42"/>
<use href="#mo" x="392.63" y="190.7"/>
<use href="#mo" x="395.09" y="191.6"/>
<use href="#mo" x="397.56" y="191.9"/>
<use href="#mo" x="400.02" y="191.98"/>
<use href="#mo" x="402.48" y="192"/>
<use href="#mo" x="404.94" y="192"/>
<use href="#mo" x="407.4" y="192"/>
<use href="#mo" x="409.86" y="192"/>
<use href="#mo" x="412.32" y="192"/>
<use href="#mo" x="414.78" y="192"/>
<use href="#mo" x="417.24" y="192"/>
<use href="#mo" x="419.71" y="192"/>
<use href="#mo" x="422.17" y="192"/>
<use href="#mo" x="424.63" y="185.22"/>
<use href="#mo" x="427.09" y="174.08"/>
<use href="#mo" x="429.55" y="161.43"/>
<use href="#mo" x="432.01" y="148.01"/>
<use href="#mo" x="434.47" y="134.89"/>
<use href="#mo" x="436.93" y="123.28"/>
<use href="#mo" x="439.39" y="114.44"/>
<use href="#mo" x="441.86" y="109.36"/>
<use href="#mo" x="444.32" y="108.68"/>
<use href="#mo" x="446.78" y="112.48"/>
<use href="#mo" x="449.24" y="120.29"/>
<use href="#mo" x="451.7" y="131.19"/>
<use href="#mo" x="454.16" y="143.99"/>
<use href="#mo" x="456.62" y="157.44"/>
<use href="#mo" x="459.08" y="170.41"/>
<use href="#mo" x="461.54" y="182.06"/>
<use href="#mo" x="464.01" y="191.88"/>
<use href="#mo" x="466.47" y="192"/>
<use href="#mo" x="468.93" y="192"/>
<use href="#mo" x="471.39" y="192"/>
<use href="#mo" x="473.85" y="192"/>
<use href="#mo" x="476.31" y="192"/>
<use href="#mo" x="478.77" y="192"/>
<use href="#mo" x="481.23" y="192"/>
<use href="#mo" x="483.69" y="192"/>
<use href="#mo" x="486.16" y="192"/>
<use href="#mo" x="488.62" y="192"/>
<use href="#mo" x="491.08" y="192"/>
<use href="#mo" x="493.54" y="192"/>
<use href="#mo" x="496" y="192"/>
<use href="#mo" x="498.46" y="192"/>
<use href="#mo" x="500.92" y="192"/>
<use href="#mo" x="503.38" y="192"/>
<use href="#mo" x="505.84" y="192"/>
<use href="#mo" x="508.31" y="192"/>
<use href="#mo" x="510.77" y="192"/>
<use href="#mo" x="513.23" y="192"/>
<use href="#mo" x="515.69" y="192"/>
<use href="#mo" x="518.15" y="192"/>
<use href="#mo" x="520.61" y="192"/>
<use href="#mo" x="523.07" y="192"/>
<use href="#mo" x="525.53" y="192"/>
<use href="#mo" x="527.99" y="192"/>
<use href="#mo" x="530.46" y="192"/>
<use href="#mo" x="532.92" y="192"/>
<use href="#mo" x="535.38" y="192"/>
<use href="#mo" x="537.84" y="192"/>
<use href="#mo" x="540.3" y="192"/>
</g>
<g stroke="#0000ff">
<polyline points="318.8,192 321.26,192 323.72,192 326.18,192 328.64,192 331.11,192 333.57,192 336.03,192 338.49,191.97 340.95,191.88 343.41,191.56 345.87,190.61 348.33,188.29 350.79,183.6 353.26,175.7 355.72,164.58 358.18,151.52 360.64,138.85 363.1,128.99 365.56,123.36 368.02,121.71 370.48,122.13 372.94,124.47 375.41,129.1 377.87,135.84 380.33,144.14 382.79,153.2 385.25,162.16 387.71,170.29 390.17,177.09 392.63,182.36 395.09,186.13 397.56,188.65 400.02,190.19 402.48,191.04 404.94,191.41 407.4,191.43 409.86,191.09 412.32,190.33 414.78,188.98 417.24,186.86 419.71,183.8 422.17,179.72 424.63,174.7 427.09,168.98 429.55,162.96 432.01,157.17 434.47,152.08 436.93,148.08 439.39,145.39 441.86,143.97 444.32,143.57 446.78,143.71 449.24,144.58 451.7,146.45 454.16,149.4 456.62,153.37 459.08,158.17 461.54,163.52 464.01,169.09 466.47,174.55 468.93,179.6 471.39,184.02 473.85,187.69 476.31,190.58 478.77,192 481.23,192 483.69,192 486.16,192 488.62,192 491.08,192 493.54,192 496,192 498.46,192 500.92,192 503.38,192 505.84,192 508.31,192 510.77,192 513.23,192 515.69,192 518.15,192 520.61,192 523.07,192 525.53,192 527.99,192 530.46,192 532.92,192 535.38,192 537.84,192 540.3,192" fill="none" stroke-width="0.6" stroke-dasharray="0.8,1"/>
<use href="#ma" x="318.8" y="192"/>
<use href="#ma" x="321.26" y="192"/>
<use href="#ma" x="323.72" y="192"/>
<use href="#ma" x="326.18" y="192"/>
<use href="#ma" x="328.64" y="192"/>
<use href="#ma" x="331.11" y="192"/>
<use href="#ma" x="333.57" y="192"/>
<use href="#ma" x="336.03" y="192"/>
<use href="#ma" x="338.49" y="191.97"/>
<use href="#ma" x="340.95" y="191.88"/>
<use href="#ma" x="343.41" y="191.56"/>
<use href="#ma" x="345.87" y="190.61"/>
<use href="#ma" x="348.33" y="188.29"/>
<use href="#ma" x="350.79" y="183.6"/>
<use href="#ma" x="353.26" y="175.7"/>
<use href="#ma" x="355.72" y="164.58"/>
<use href="#ma" x="358.18" y="151.52"/>
<use href="#ma" x="360.64" y="138.85"/>
<use href="#ma" x="363.1" y="128.99"/>
<use href="#ma" x="365.56" y="123.36"/>
<use href="#ma" x="368.02" y="121.71"/>
<use href="#ma" x="370.48" y="122.13"/>
<use href="#ma" x="372.94" y="124.47"/>
<use href="#ma" x="375.41" y="129.1"/>
<use href="#ma" x="377.87" y="135.84"/>
<use href="#ma" x="380.33" y="144.14"/>
<use href="#ma" x="382.79" y="153.2"/>
<use href="#ma" x="385.25" y="162.16"/>
<use href="#ma" x="387.71" y="170.29"/>
<use href="#ma" x="390.17" y="177.09"/>
<use href="#ma" x="392.63" y="182.36"/>
<use href="#ma" x="395.09" y="186.13"/>
<use href="#ma" x="397.56" y="188.65"/>
<use href="#ma" x="400.02" y="190.19"/>
<use href="#ma" x="402.48" y="191.04"/>
<use href="#ma" x="404.94" y="191.41"/>
<use href="#ma" x="407.4" y="191.43"/>
<use href="#ma" x="409.86" y="191.09"/>
<use href="#ma" x="412.32" y="190.33"/>
<use href="#ma" x="414.78" y="188.98"/>
<use href="#ma" x="417.24" y="186.86"/>
<use href="#ma" x="419.71" y="183.8"/>
<use href="#ma" x="422.17" y="179.72"/>
<use href="#ma" x="424.63" y="174.7"/>
<use href="#ma" x="427.09" y="168.98"/>
<use href="#ma" x="429.55" y="162.96"/>
<use href="#ma" x="432.01" y="157.17"/>
<use href="#ma" x="434.47" y="152.08"/>
<use href="#ma" x="436.93" y="148.08"/>
<use href="#ma" x="439.39" y="145.39"/>
<use href="#ma" x="441.86" y="143.97"/>
<use href="#ma" x="444.32" y="143.57"/>
<use href="#ma" x="446.78" y="143.71"/>
<use href="#ma" x="449.24" y="144.58"/>
<use href="#ma" x="451.7" y="146.45"/>
<use href="#ma" x="454.16" y="149.4"/>
<use href="#ma" x="456.62" y="153.37"/>
<use href="#ma" x="459.08" y="158.17"/>
<use href="#ma" x="461.54" y="163.52"/>
<use href="#ma" x="464.01" y="169.09"/>
<use href="#ma" x="466.47" y="174.55"/>
<use href="#ma" x="468.93" y="179.6"/>
<use href="#ma" x="471.39" y="184.02"/>
<use href="#ma" x="473.85" y="187.69"/>
<use href="#ma" x="476.31" y="190.58"/>
<use href="#ma" x="478.77" y="192"/>
<use href="#ma" x="481.23" y="192"/>
<use href="#ma" x="483.69" y="192"/>
<use href="#ma" x="486.16" y="192"/>
<use href="#ma" x="488.62" y="192"/>
<use href="#ma" x="491.08" y="192"/>
<use href="#ma" x="493.54" y="192"/>
<use href="#ma" x="496" y="192"/>
<use href="#ma" x="498.46" y="192"/>
<use href="#ma" x="500.92" y="192"/>
<use href="#ma" x="503.38" y="192"/>
<use href="#ma" x="505.84" y="192"/>
<use href="#ma" x="508.31" y="192"/>
<use href="#ma" x="510.77" y="192"/>
<use href="#ma" x="513.23" y="192"/>
<use href="#ma" x="515.69" y="192"/>
<use href="#ma" x="518.15" y="192"/>
<use href="#ma" x="520.61" y="192"/>
<use href="#ma" x="523.07" y="192"/>
<use href="#ma" x="525.53" y="192"/>
<use href="#ma" x="527.99" y="192"/>
<use href="#ma" x="530.46" y="192"/>
<use href="#ma" x="532.92" y="192"/>
<use href="#ma" x="535.38" y="192"/>
<use href="#ma" x="537.84" y="192"/>
<use href="#ma" x="540.3" y="192"/>
</g>
<g stroke="#00ffff">
<polyline points="318.8,191.82 321.26,191.58 323.72,191.09 326.18,190.23 328.64,188.83 331.11,186.77 333.57,184.01 336.03,180.58 338.49,176.69 340.95,172.61 343.41,168.65 345.87,165.1 348.33,162.18 350.79,160 353.26,158.54 355.72,157.71 358.18,157.34 360.64,157.23 363.1,157.35 365.56,158.1 368.02,159.46 370.48,161.3 372.94,163.48 375.41,165.84 377.87,168.18 380.33,170.33 382.79,172.11 385.25,173.38 387.71,174 390.17,173.91 392.63,173.07 395.09,171.49 397.56,169.21 400.02,166.34 402.48,163.01 404.94,159.4 407.4,155.68 409.86,152.05 412.32,148.69 414.78,145.77 417.24,143.43 419.71,141.74 422.17,140.75 424.63,140.41 427.09,140.47 429.55,140.88 432.01,141.86 434.47,143.55 436.93,146.01 439.39,149.23 441.86,153.14 444.32,157.57 446.78,162.33 449.24,167.18 451.7,171.89 454.16,176.24 456.62,180.08 459.08,183.31 461.54,185.91 464.01,187.9 466.47,189.35 468.93,190.37 471.39,191.04 473.85,191.46 476.31,191.71 478.77,191.85 481.23,191.93 483.69,191.97 486.16,191.99 488.62,191.99 491.08,192 493.54,192 496,192 498.46,192 500.92,192 503.38,192 505.84,192 508.31,192 510.77,192 513.23,192 515.69,192 518.15,192 520.61,192 523.07,192 525.53,192 527.99,192 530.46,192 532.92,192 535.38,192 537.84,192 540.3,192" fill="none" stroke-width="0.6" stroke-dasharray="2,1,0.6,1"/>
<use href="#md" x="318.8" y="191.82"/>
<use href="#md" x="321.26" y="191.58"/>
<use href="#md" x="323.72" y="191.09"/>
<use href="#md" x="326.18" y="190.23"/>
<use href="#md" x="328.64" y="188.83"/>
<use href="#md" x="331.11" y="186.77"/>
<use href="#md" x="333.57" y="184.01"/>
<use href="#md" x="336.03" y="180.58"/>
<use href="#md" x="338.49" y="176.69"/>
<use href="#md" x="340.95" y="172.61"/>
<use href="#md" x="343.41" y="168.65"/>
<use href="#md" x="345.87" y="165.1"/>
<use href="#md" x="348.33" y="162.18"/>
<use href="#md" x="350.79" y="160"/>
<use href="#md" x="353.26" y="158.54"/>
<use href="#md" x="355.72" y="157.71"/>
<use href="#md" x="358.18" y="157.34"/>
<use href="#md" x="360.64" y="157.23"/>
<use href="#md" x="363.1" y="157.35"/>
<use href="#md" x="365.56" y="158.1"/>
<use href="#md" x="368.02" y="159.46"/>
<use href="#md" x="370.48" y="161.3"/>
<use href="#md" x="372.94" y="163.48"/>
<use href="#md" x="375.41" y="165.84"/>
<use href="#md" x="377.87" y="168.18"/>
<use href="#md" x="380.33" y="170.33"/>
<use href="#md" x="382.79" y="172.11"/>
<use href="#md" x="385.25" y="173.38"/>
<use href="#md" x="387.71" y="174"/>
<use href="#md" x="390.17" y="173.91"/>
<use href="#md" x="392.63" y="173.07"/>
<use href="#md" x="395.09" y="171.49"/>
<use href="#md" x="397.56" y="169.21"/>
<use href="#md" x="400.02" y="166.34"/>
<use href="#md" x="402.48" y="163.01"/>
<use href="#md" x="404.94" y="159.4"/>
<use href="#md" x="407.4" y="155.68"/>
<use href="#md" x="409.86" y="152.05"/>
<use href="#md" x="412.32" y="148.69"/>
<use href="#md" x="414.78" y="145.77"/>
<use href="#md" x="417.24" y="143.43"/>
<use href="#md" x="419.71" y="141.74"/>
<use href="#md" x="422.17" y="140.75"/>
<use href="#md" x="424.63" y="140.41"/>
<use href="#md" x="427.09" y="140.47"/>
<use href="#md" x="429.55" y="140.88"/>
<use href="#md" x="432.01" y="141.86"/>
<use href="#md" x="434.47" y="143.55"/>
<use href="#md" x="436.93" y="146.01"/>
<use href="#md" x="439.39" y="149.23"/>
<use href="#md" x="441.86" y="153.14"/>
<use href="#md" x="444.32" y="157.57"/>
<use href="#md" x="446.78" y="162.33"/>
<use href="#md" x="449.24" y="167.18"/>
<use href="#md" x="451.7" y="171.89"/>
<use href="#md" x="454.16" y="176.24"/>
<use href="#md" x="456.62" y="180.08"/>
<use href="#md" x="459.08" y="183.31"/>
<use href="#md" x="461.54" y="185.91"/>
<use href="#md" x="464.01" y="187.9"/>
<use href="#md" x="466.47" y="189.35"/>
<use href="#md" x="468.93" y="190.37"/>
<use href="#md" x="471.39" y="191.04"/>
<use href="#md" x="473.85" y="191.46"/>
<use href="#md" x="476.31" y="191.71"/>
<use href="#md" x="478.77" y="191.85"/>
<use href="#md" x="481.23" y="191.93"/>
<use href="#md" x="483.69" y="191.97"/>
<use href="#md" x="486.16" y="191.99"/>
<use href="#md" x="488.62" y="191.99"/>
<use href="#md" x="491.08" y="192"/>
<use href="#md" x="493.54" y="192"/>
<use href="#md" x="496" y="192"/>
<use href="#md" x="498.46" y="192"/>
<use href="#md" x="500.92" y="192"/>
<use href="#md" x="503.38" y="192"/>
<use href="#md" x="505.84" y="192"/>
<use href="#md" x="508.31" y="192"/>
<use href="#md" x="510.77" y="192"/>
<use href="#md" x="513.23" y="192"/>
<use href="#md" x="515.69" y="192"/>
<use href="#md" x="518.15" y="192"/>
<use href="#md" x="520.61" y="192"/>
<use href="#md" x="523.07" y="192"/>
<use href="#md" x="525.53" y="192"/>
<use href="#md" x="527.99" y="192"/>
<use href="#md" x="530.46" y="192"/>
<use href="#md" x="532.92" y="192"/>
<use href="#md" x="535.38" y="192"/>
<use href="#md" x="537.84" y="192"/>
<use href="#md" x="540.3" y="192"/>
</g>
<g font-size="5.75" font-weight="bold" fill="#111" stroke-width="0.2">
<path d="M499.3,16h15.3" stroke="#000" stroke-width="1.6"/>
<text x="516.7" y="18.05" stroke="#111">true</text>
<g stroke="#ff0000"><path d="M499.3,24.2h15.3" stroke-width="0.6"/><use href="#mh" x="506.95" y="24.2"/></g>
<text x="516.7" y="26.25" stroke="#111">L2,2</text>
<g stroke="#ff00ff"><path d="M499.3,32.4h15.3" stroke-width="0.6"/><use href="#mo" x="506.95" y="32.4"/></g>
<text x="516.7" y="34.45" stroke="#111">L1,<tspan dx="0.5" dy="-0.5" font-size="6.4" stroke="none">∞</tspan></text>
<g stroke="#0000ff"><path d="M499.3,40.6h15.3" stroke-width="0.6" stroke-dasharray="0.8,1"/><use href="#ma" x="506.95" y="40.6"/></g>
<text x="516.7" y="42.65" stroke="#111">L1,2</text>
<g stroke="#00ffff"><path d="M499.3,48.8h15.3" stroke-width="0.6" stroke-dasharray="2,1,0.6,1"/><use href="#md" x="506.95" y="48.8"/></g>
<text x="516.7" y="50.85" stroke="#111">L2,<tspan dx="0.5" dy="-0.5" font-size="6.4" stroke="none">∞</tspan></text>
</g>
</g>
<g id="plot-c">
<rect x="29.3" y="250" width="226.3" height="198.6" fill="none" stroke="#3c3c3c" stroke-width="0.6"/>
<path d="M54.44,448.6v-2.2M54.44,250v2.2M79.59,448.6v-2.2M79.59,250v2.2M104.73,448.6v-2.2M104.73,250v2.2M129.88,448.6v-2.2M129.88,250v2.2M155.02,448.6v-2.2M155.02,250v2.2M180.17,448.6v-2.2M180.17,250v2.2M205.31,448.6v-2.2M205.31,250v2.2M230.46,448.6v-2.2M230.46,250v2.2M29.3,415.5h2.2M255.6,415.5h-2.2M29.3,382.4h2.2M255.6,382.4h-2.2M29.3,349.3h2.2M255.6,349.3h-2.2M29.3,316.2h2.2M255.6,316.2h-2.2M29.3,283.1h2.2M255.6,283.1h-2.2" stroke="#3c3c3c" stroke-width="0.6" fill="none"/>
<g font-size="7.3" fill="#222222" stroke="#222222" stroke-width="0.2">
<g text-anchor="middle">
<text x="29.3" y="460">0</text>
<text x="54.44" y="460">100</text>
<text x="79.59" y="460">200</text>
<text x="104.73" y="460">300</text>
<text x="129.88" y="460">400</text>
<text x="155.02" y="460">500</text>
<text x="180.17" y="460">600</text>
<text x="205.31" y="460">700</text>
<text x="230.46" y="460">800</text>
<text x="255.6" y="460">900</text>
</g>
<g text-anchor="end">
<text x="25.9" y="451.66">0</text>
<text x="25.9" y="418.56">0.02</text>
<text x="25.9" y="385.46">0.04</text>
<text x="25.9" y="352.36">0.06</text>
<text x="25.9" y="319.26">0.08</text>
<text x="25.9" y="286.16">0.1</text>
<text x="25.9" y="253.06">0.12</text>
</g>
<text x="142.45" y="469.7" text-anchor="middle">Diameter/nm</text>
<text transform="translate(8.2,349.3) rotate(-90)" text-anchor="middle">f(d)</text>
</g>
<text x="47.5" y="272" font-size="9.4" font-weight="bold" fill="#111">(c)</text>
<polyline points="29.3,448.6 61.86,448.6 64.63,447.94 67.39,443.64 70.16,418.81 72.93,349.3 75.69,296.84 78.46,284.42 81.22,309.58 83.99,359.23 86.76,405.57 89.52,432.88 92.29,443.97 95.05,447.61 97.82,448.6 100.58,448.6 103.35,448.6 106.12,448.6 108.88,448.59 111.65,448.56 114.41,448.47 117.18,448.24 119.95,447.7 122.71,446.56 125.48,444.41 128.24,440.78 131.01,435.27 133.78,427.77 136.54,418.63 139.31,408.68 142.07,399.12 144.84,391.16 147.6,385.67 150.37,382.93 153.14,382.42 155.9,384.03 158.67,387.97 161.43,393.82 164.2,400.98 166.97,408.77 169.73,416.54 172.5,423.77 175.26,430.09 178.03,435.33 180.8,439.44 183.56,442.52 186.33,444.72 189.09,446.21 191.86,447.19 194.62,447.8 197.39,448.16 200.16,448.37 202.92,448.48 205.69,448.54 208.45,448.57 211.22,448.59 213.99,448.59 216.75,448.6 219.52,448.6 222.28,448.6 225.05,448.6 227.82,448.6 230.58,448.6 233.35,448.6 236.11,448.6 238.88,448.6 241.64,448.6 244.41,448.6 247.18,448.6 249.94,448.6 252.71,448.6 255.47,448.6 255.6,448.6" fill="none" stroke="#000" stroke-width="1.6" stroke-linejoin="round"/>
<g stroke="#ff0000">
<polyline points="29.3,448.6 31.81,448.6 34.33,448.6 36.84,448.6 39.36,448.58 41.87,448.52 44.39,448.27 46.9,447.49 49.42,445.55 51.93,441.59 54.44,434.97 56.96,425.75 59.47,415.04 61.99,404.64 64.5,396.28 67.02,390.94 69.53,388.51 72.05,388.03 74.56,388.44 77.07,390.66 79.59,395.3 82.1,402.29 84.62,410.93 87.13,420.15 89.65,428.79 92.16,435.97 94.68,441.27 97.19,444.75 99.7,446.78 102.22,447.81 104.73,448.25 107.25,448.34 109.76,448.13 112.28,447.54 114.79,446.3 117.31,444.03 119.82,440.29 122.33,434.71 124.85,427.18 127.36,417.98 129.88,407.82 132.39,397.73 134.91,388.8 137.42,381.93 139.94,377.56 142.45,375.59 144.96,375.29 147.48,375.95 149.99,378.25 152.51,382.61 155.02,389.04 157.54,397.16 160.05,406.31 162.57,415.64 165.08,424.36 167.59,431.84 170.11,437.74 172.62,442.04 175.14,444.91 177.65,446.67 180.17,447.67 182.68,448.19 185.2,448.43 187.71,448.54 190.22,448.58 192.74,448.59 195.25,448.6 197.77,448.6 200.28,448.6 202.8,448.6 205.31,448.6 207.83,448.6 210.34,448.6 212.85,448.6 215.37,448.6 217.88,448.6 220.4,448.6 222.91,448.6 225.43,448.6 227.94,448.6 230.46,448.6 232.97,448.6 235.48,448.6 238,448.6 240.51,448.6 243.03,448.6 245.54,448.6 248.06,448.6 250.57,448.6 253.09,448.6 255.6,448.6" fill="none" stroke-width="0.6"/>
<use href="#mh" x="29.3" y="448.6"/>
<use href="#mh" x="31.81" y="448.6"/>
<use href="#mh" x="34.33" y="448.6"/>
<use href="#mh" x="36.84" y="448.6"/>
<use href="#mh" x="39.36" y="448.58"/>
<use href="#mh" x="41.87" y="448.52"/>
<use href="#mh" x="44.39" y="448.27"/>
<use href="#mh" x="46.9" y="447.49"/>
<use href="#mh" x="49.42" y="445.55"/>
<use href="#mh" x="51.93" y="441.59"/>
<use href="#mh" x="54.44" y="434.97"/>
<use href="#mh" x="56.96" y="425.75"/>
<use href="#mh" x="59.47" y="415.04"/>
<use href="#mh" x="61.99" y="404.64"/>
<use href="#mh" x="64.5" y="396.28"/>
<use href="#mh" x="67.02" y="390.94"/>
<use href="#mh" x="69.53" y="388.51"/>
<use href="#mh" x="72.05" y="388.03"/>
<use href="#mh" x="74.56" y="388.44"/>
<use href="#mh" x="77.07" y="390.66"/>
<use href="#mh" x="79.59" y="395.3"/>
<use href="#mh" x="82.1" y="402.29"/>
<use href="#mh" x="84.62" y="410.93"/>
<use href="#mh" x="87.13" y="420.15"/>
<use href="#mh" x="89.65" y="428.79"/>
<use href="#mh" x="92.16" y="435.97"/>
<use href="#mh" x="94.68" y="441.27"/>
<use href="#mh" x="97.19" y="444.75"/>
<use href="#mh" x="99.7" y="446.78"/>
<use href="#mh" x="102.22" y="447.81"/>
<use href="#mh" x="104.73" y="448.25"/>
<use href="#mh" x="107.25" y="448.34"/>
<use href="#mh" x="109.76" y="448.13"/>
<use href="#mh" x="112.28" y="447.54"/>
<use href="#mh" x="114.79" y="446.3"/>
<use href="#mh" x="117.31" y="444.03"/>
<use href="#mh" x="119.82" y="440.29"/>
<use href="#mh" x="122.33" y="434.71"/>
<use href="#mh" x="124.85" y="427.18"/>
<use href="#mh" x="127.36" y="417.98"/>
<use href="#mh" x="129.88" y="407.82"/>
<use href="#mh" x="132.39" y="397.73"/>
<use href="#mh" x="134.91" y="388.8"/>
<use href="#mh" x="137.42" y="381.93"/>
<use href="#mh" x="139.94" y="377.56"/>
<use href="#mh" x="142.45" y="375.59"/>
<use href="#mh" x="144.96" y="375.29"/>
<use href="#mh" x="147.48" y="375.95"/>
<use href="#mh" x="149.99" y="378.25"/>
<use href="#mh" x="152.51" y="382.61"/>
<use href="#mh" x="155.02" y="389.04"/>
<use href="#mh" x="157.54" y="397.16"/>
<use href="#mh" x="160.05" y="406.31"/>
<use href="#mh" x="162.57" y="415.64"/>
<use href="#mh" x="165.08" y="424.36"/>
<use href="#mh" x="167.59" y="431.84"/>
<use href="#mh" x="170.11" y="437.74"/>
<use href="#mh" x="172.62" y="442.04"/>
<use href="#mh" x="175.14" y="444.91"/>
<use href="#mh" x="177.65" y="446.67"/>
<use href="#mh" x="180.17" y="447.67"/>
<use href="#mh" x="182.68" y="448.19"/>
<use href="#mh" x="185.2" y="448.43"/>
<use href="#mh" x="187.71" y="448.54"/>
<use href="#mh" x="190.22" y="448.58"/>
<use href="#mh" x="192.74" y="448.59"/>
<use href="#mh" x="195.25" y="448.6"/>
<use href="#mh" x="197.77" y="448.6"/>
<use href="#mh" x="200.28" y="448.6"/>
<use href="#mh" x="202.8" y="448.6"/>
<use href="#mh" x="205.31" y="448.6"/>
<use href="#mh" x="207.83" y="448.6"/>
<use href="#mh" x="210.34" y="448.6"/>
<use href="#mh" x="212.85" y="448.6"/>
<use href="#mh" x="215.37" y="448.6"/>
<use href="#mh" x="217.88" y="448.6"/>
<use href="#mh" x="220.4" y="448.6"/>
<use href="#mh" x="222.91" y="448.6"/>
<use href="#mh" x="225.43" y="448.6"/>
<use href="#mh" x="227.94" y="448.6"/>
<use href="#mh" x="230.46" y="448.6"/>
<use href="#mh" x="232.97" y="448.6"/>
<use href="#mh" x="235.48" y="448.6"/>
<use href="#mh" x="238" y="448.6"/>
<use href="#mh" x="240.51" y="448.6"/>
<use href="#mh" x="243.03" y="448.6"/>
<use href="#mh" x="245.54" y="448.6"/>
<use href="#mh" x="248.06" y="448.6"/>
<use href="#mh" x="250.57" y="448.6"/>
<use href="#mh" x="253.09" y="448.6"/>
<use href="#mh" x="255.6" y="448.6"/>
</g>
<g stroke="#ff00ff">
<polyline points="29.3,448.6 31.81,448.6 34.33,448.6 36.84,448.6 39.36,448.6 41.87,448.6 44.39,448.6 46.9,448.6 49.42,448.6 51.93,448.6 54.44,448.58 56.96,448.39 59.47,447.4 61.99,443.9 64.5,435.18 67.02,419.6 69.53,399.04 72.05,378.72 74.56,363.75 77.07,356.02 79.59,353.85 82.1,353.85 84.62,356.02 87.13,363.75 89.65,378.72 92.16,399.04 94.68,419.6 97.19,435.18 99.7,443.9 102.22,447.4 104.73,448.39 107.25,448.58 109.76,448.6 112.28,448.6 114.79,448.6 117.31,448.6 119.82,448.6 122.33,448.6 124.85,448.6 127.36,448.6 129.88,448.6 132.39,448.59 134.91,448.52 137.42,448.11 139.94,446.51 142.45,441.97 144.96,432.42 147.48,417.28 149.99,398.96 152.51,382.02 155.02,370.39 157.54,365.11 160.05,364.2 162.57,365.11 165.08,370.39 167.59,382.02 170.11,398.96 172.62,417.28 175.14,432.42 177.65,441.97 180.17,446.51 182.68,448.11 185.2,448.52 187.71,448.59 190.22,448.6 192.74,448.6 195.25,448.6 197.77,448.6 200.28,448.6 202.8,448.6 205.31,448.6 207.83,448.6 210.34,448.6 212.85,448.6 215.37,448.6 217.88,448.6 220.4,448.6 222.91,448.6 225.43,448.6 227.94,448.6 230.46,448.6 232.97,448.6 235.48,448.6 238,448.6 240.51,448.6 243.03,448.6 245.54,448.6 248.06,448.6 250.57,448.6 253.09,448.6 255.6,448.6" fill="none" stroke-width="0.6"/>
<use href="#mo" x="29.3" y="448.6"/>
<use href="#mo" x="31.81" y="448.6"/>
<use href="#mo" x="34.33" y="448.6"/>
<use href="#mo" x="36.84" y="448.6"/>
<use href="#mo" x="39.36" y="448.6"/>
<use href="#mo" x="41.87" y="448.6"/>
<use href="#mo" x="44.39" y="448.6"/>
<use href="#mo" x="46.9" y="448.6"/>
<use href="#mo" x="49.42" y="448.6"/>
<use href="#mo" x="51.93" y="448.6"/>
<use href="#mo" x="54.44" y="448.58"/>
<use href="#mo" x="56.96" y="448.39"/>
<use href="#mo" x="59.47" y="447.4"/>
<use href="#mo" x="61.99" y="443.9"/>
<use href="#mo" x="64.5" y="435.18"/>
<use href="#mo" x="67.02" y="419.6"/>
<use href="#mo" x="69.53" y="399.04"/>
<use href="#mo" x="72.05" y="378.72"/>
<use href="#mo" x="74.56" y="363.75"/>
<use href="#mo" x="77.07" y="356.02"/>
<use href="#mo" x="79.59" y="353.85"/>
<use href="#mo" x="82.1" y="353.85"/>
<use href="#mo" x="84.62" y="356.02"/>
<use href="#mo" x="87.13" y="363.75"/>
<use href="#mo" x="89.65" y="378.72"/>
<use href="#mo" x="92.16" y="399.04"/>
<use href="#mo" x="94.68" y="419.6"/>
<use href="#mo" x="97.19" y="435.18"/>
<use href="#mo" x="99.7" y="443.9"/>
<use href="#mo" x="102.22" y="447.4"/>
<use href="#mo" x="104.73" y="448.39"/>
<use href="#mo" x="107.25" y="448.58"/>
<use href="#mo" x="109.76" y="448.6"/>
<use href="#mo" x="112.28" y="448.6"/>
<use href="#mo" x="114.79" y="448.6"/>
<use href="#mo" x="117.31" y="448.6"/>
<use href="#mo" x="119.82" y="448.6"/>
<use href="#mo" x="122.33" y="448.6"/>
<use href="#mo" x="124.85" y="448.6"/>
<use href="#mo" x="127.36" y="448.6"/>
<use href="#mo" x="129.88" y="448.6"/>
<use href="#mo" x="132.39" y="448.59"/>
<use href="#mo" x="134.91" y="448.52"/>
<use href="#mo" x="137.42" y="448.11"/>
<use href="#mo" x="139.94" y="446.51"/>
<use href="#mo" x="142.45" y="441.97"/>
<use href="#mo" x="144.96" y="432.42"/>
<use href="#mo" x="147.48" y="417.28"/>
<use href="#mo" x="149.99" y="398.96"/>
<use href="#mo" x="152.51" y="382.02"/>
<use href="#mo" x="155.02" y="370.39"/>
<use href="#mo" x="157.54" y="365.11"/>
<use href="#mo" x="160.05" y="364.2"/>
<use href="#mo" x="162.57" y="365.11"/>
<use href="#mo" x="165.08" y="370.39"/>
<use href="#mo" x="167.59" y="382.02"/>
<use href="#mo" x="170.11" y="398.96"/>
<use href="#mo" x="172.62" y="417.28"/>
<use href="#mo" x="175.14" y="432.42"/>
<use href="#mo" x="177.65" y="441.97"/>
<use href="#mo" x="180.17" y="446.51"/>
<use href="#mo" x="182.68" y="448.11"/>
<use href="#mo" x="185.2" y="448.52"/>
<use href="#mo" x="187.71" y="448.59"/>
<use href="#mo" x="190.22" y="448.6"/>
<use href="#mo" x="192.74" y="448.6"/>
<use href="#mo" x="195.25" y="448.6"/>
<use href="#mo" x="197.77" y="448.6"/>
<use href="#mo" x="200.28" y="448.6"/>
<use href="#mo" x="202.8" y="448.6"/>
<use href="#mo" x="205.31" y="448.6"/>
<use href="#mo" x="207.83" y="448.6"/>
<use href="#mo" x="210.34" y="448.6"/>
<use href="#mo" x="212.85" y="448.6"/>
<use href="#mo" x="215.37" y="448.6"/>
<use href="#mo" x="217.88" y="448.6"/>
<use href="#mo" x="220.4" y="448.6"/>
<use href="#mo" x="222.91" y="448.6"/>
<use href="#mo" x="225.43" y="448.6"/>
<use href="#mo" x="227.94" y="448.6"/>
<use href="#mo" x="230.46" y="448.6"/>
<use href="#mo" x="232.97" y="448.6"/>
<use href="#mo" x="235.48" y="448.6"/>
<use href="#mo" x="238" y="448.6"/>
<use href="#mo" x="240.51" y="448.6"/>
<use href="#mo" x="243.03" y="448.6"/>
<use href="#mo" x="245.54" y="448.6"/>
<use href="#mo" x="248.06" y="448.6"/>
<use href="#mo" x="250.57" y="448.6"/>
<use href="#mo" x="253.09" y="448.6"/>
<use href="#mo" x="255.6" y="448.6"/>
</g>
<g stroke="#0000ff">
<polyline points="29.3,448.6 31.81,448.6 34.33,448.6 36.84,448.6 39.36,448.6 41.87,448.6 44.39,448.59 46.9,448.57 49.42,448.47 51.93,448.18 54.44,447.41 56.96,445.66 59.47,442.24 61.99,436.44 64.5,427.9 67.02,416.98 69.53,404.88 72.05,393.37 74.56,384.18 77.07,378.38 79.59,376.01 82.1,375.83 84.62,376.9 87.13,380 89.65,385.46 92.16,393.1 94.68,402.32 97.19,412.19 99.7,421.72 102.22,430.06 104.73,436.71 107.25,441.54 109.76,444.73 112.28,446.65 114.79,447.7 117.31,448.22 119.82,448.44 122.33,448.5 124.85,448.44 127.36,448.23 129.88,447.75 132.39,446.82 134.91,445.18 137.42,442.57 139.94,438.8 142.45,433.85 144.96,427.95 147.48,421.59 149.99,415.39 152.51,410.02 155.02,405.97 157.54,403.46 160.05,402.39 162.57,402.27 165.08,402.72 167.59,404.06 170.11,406.43 172.62,409.84 175.14,414.16 177.65,419.16 180.17,424.51 182.68,429.88 185.2,434.95 187.71,439.48 190.22,443.31 192.74,446.38 195.25,448.6 197.77,448.6 200.28,448.6 202.8,448.6 205.31,448.6 207.83,448.6 210.34,448.6 212.85,448.6 215.37,448.6 217.88,448.6 220.4,448.6 222.91,448.6 225.43,448.6 227.94,448.6 230.46,448.6 232.97,448.6 235.48,448.6 238,448.6 240.51,448.6 243.03,448.6 245.54,448.6 248.06,448.6 250.57,448.6 253.09,448.6 255.6,448.6" fill="none" stroke-width="0.6" stroke-dasharray="0.8,1"/>
<use href="#ma" x="29.3" y="448.6"/>
<use href="#ma" x="31.81" y="448.6"/>
<use href="#ma" x="34.33" y="448.6"/>
<use href="#ma" x="36.84" y="448.6"/>
<use href="#ma" x="39.36" y="448.6"/>
<use href="#ma" x="41.87" y="448.6"/>
<use href="#ma" x="44.39" y="448.59"/>
<use href="#ma" x="46.9" y="448.57"/>
<use href="#ma" x="49.42" y="448.47"/>
<use href="#ma" x="51.93" y="448.18"/>
<use href="#ma" x="54.44" y="447.41"/>
<use href="#ma" x="56.96" y="445.66"/>
<use href="#ma" x="59.47" y="442.24"/>
<use href="#ma" x="61.99" y="436.44"/>
<use href="#ma" x="64.5" y="427.9"/>
<use href="#ma" x="67.02" y="416.98"/>
<use href="#ma" x="69.53" y="404.88"/>
<use href="#ma" x="72.05" y="393.37"/>
<use href="#ma" x="74.56" y="384.18"/>
<use href="#ma" x="77.07" y="378.38"/>
<use href="#ma" x="79.59" y="376.01"/>
<use href="#ma" x="82.1" y="375.83"/>
<use href="#ma" x="84.62" y="376.9"/>
<use href="#ma" x="87.13" y="380"/>
<use href="#ma" x="89.65" y="385.46"/>
<use href="#ma" x="92.16" y="393.1"/>
<use href="#ma" x="94.68" y="402.32"/>
<use href="#ma" x="97.19" y="412.19"/>
<use href="#ma" x="99.7" y="421.72"/>
<use href="#ma" x="102.22" y="430.06"/>
<use href="#ma" x="104.73" y="436.71"/>
<use href="#ma" x="107.25" y="441.54"/>
<use href="#ma" x="109.76" y="444.73"/>
<use href="#ma" x="112.28" y="446.65"/>
<use href="#ma" x="114.79" y="447.7"/>
<use href="#ma" x="117.31" y="448.22"/>
<use href="#ma" x="119.82" y="448.44"/>
<use href="#ma" x="122.33" y="448.5"/>
<use href="#ma" x="124.85" y="448.44"/>
<use href="#ma" x="127.36" y="448.23"/>
<use href="#ma" x="129.88" y="447.75"/>
<use href="#ma" x="132.39" y="446.82"/>
<use href="#ma" x="134.91" y="445.18"/>
<use href="#ma" x="137.42" y="442.57"/>
<use href="#ma" x="139.94" y="438.8"/>
<use href="#ma" x="142.45" y="433.85"/>
<use href="#ma" x="144.96" y="427.95"/>
<use href="#ma" x="147.48" y="421.59"/>
<use href="#ma" x="149.99" y="415.39"/>
<use href="#ma" x="152.51" y="410.02"/>
<use href="#ma" x="155.02" y="405.97"/>
<use href="#ma" x="157.54" y="403.46"/>
<use href="#ma" x="160.05" y="402.39"/>
<use href="#ma" x="162.57" y="402.27"/>
<use href="#ma" x="165.08" y="402.72"/>
<use href="#ma" x="167.59" y="404.06"/>
<use href="#ma" x="170.11" y="406.43"/>
<use href="#ma" x="172.62" y="409.84"/>
<use href="#ma" x="175.14" y="414.16"/>
<use href="#ma" x="177.65" y="419.16"/>
<use href="#ma" x="180.17" y="424.51"/>
<use href="#ma" x="182.68" y="429.88"/>
<use href="#ma" x="185.2" y="434.95"/>
<use href="#ma" x="187.71" y="439.48"/>
<use href="#ma" x="190.22" y="443.31"/>
<use href="#ma" x="192.74" y="446.38"/>
<use href="#ma" x="195.25" y="448.6"/>
<use href="#ma" x="197.77" y="448.6"/>
<use href="#ma" x="200.28" y="448.6"/>
<use href="#ma" x="202.8" y="448.6"/>
<use href="#ma" x="205.31" y="448.6"/>
<use href="#ma" x="207.83" y="448.6"/>
<use href="#ma" x="210.34" y="448.6"/>
<use href="#ma" x="212.85" y="448.6"/>
<use href="#ma" x="215.37" y="448.6"/>
<use href="#ma" x="217.88" y="448.6"/>
<use href="#ma" x="220.4" y="448.6"/>
<use href="#ma" x="222.91" y="448.6"/>
<use href="#ma" x="225.43" y="448.6"/>
<use href="#ma" x="227.94" y="448.6"/>
<use href="#ma" x="230.46" y="448.6"/>
<use href="#ma" x="232.97" y="448.6"/>
<use href="#ma" x="235.48" y="448.6"/>
<use href="#ma" x="238" y="448.6"/>
<use href="#ma" x="240.51" y="448.6"/>
<use href="#ma" x="243.03" y="448.6"/>
<use href="#ma" x="245.54" y="448.6"/>
<use href="#ma" x="248.06" y="448.6"/>
<use href="#ma" x="250.57" y="448.6"/>
<use href="#ma" x="253.09" y="448.6"/>
<use href="#ma" x="255.6" y="448.6"/>
</g>
<g stroke="#00ffff">
<polyline points="29.3,448.55 31.81,448.47 34.33,448.3 36.84,447.95 39.36,447.32 41.87,446.28 44.39,444.68 46.9,442.41 49.42,439.45 51.93,435.84 54.44,431.76 56.96,427.43 59.47,423.16 61.99,419.22 64.5,415.83 67.02,413.12 69.53,411.15 72.05,409.86 74.56,409.13 77.07,408.8 79.59,408.67 82.1,408.8 84.62,409.55 87.13,410.88 89.65,412.7 92.16,414.9 94.68,417.32 97.19,419.82 99.7,422.25 102.22,424.46 104.73,426.33 107.25,427.76 109.76,428.67 112.28,429.01 114.79,428.77 117.31,427.95 119.82,426.59 122.33,424.78 124.85,422.58 127.36,420.11 129.88,417.49 132.39,414.84 134.91,412.31 137.42,410 139.94,408.05 142.45,406.54 144.96,405.57 147.48,405.18 149.99,405.21 152.51,405.41 155.02,405.96 157.54,407.05 160.05,408.83 162.57,411.38 165.08,414.7 167.59,418.7 170.11,423.18 172.62,427.86 175.14,432.44 177.65,436.63 180.17,440.21 182.68,443.07 185.2,445.18 187.71,446.63 190.22,447.54 192.74,448.08 195.25,448.36 197.77,448.5 200.28,448.56 202.8,448.59 205.31,448.6 207.83,448.6 210.34,448.6 212.85,448.6 215.37,448.6 217.88,448.6 220.4,448.6 222.91,448.6 225.43,448.6 227.94,448.6 230.46,448.6 232.97,448.6 235.48,448.6 238,448.6 240.51,448.6 243.03,448.6 245.54,448.6 248.06,448.6 250.57,448.6 253.09,448.6 255.6,448.6" fill="none" stroke-width="0.6" stroke-dasharray="2,1,0.6,1"/>
<use href="#md" x="29.3" y="448.55"/>
<use href="#md" x="31.81" y="448.47"/>
<use href="#md" x="34.33" y="448.3"/>
<use href="#md" x="36.84" y="447.95"/>
<use href="#md" x="39.36" y="447.32"/>
<use href="#md" x="41.87" y="446.28"/>
<use href="#md" x="44.39" y="444.68"/>
<use href="#md" x="46.9" y="442.41"/>
<use href="#md" x="49.42" y="439.45"/>
<use href="#md" x="51.93" y="435.84"/>
<use href="#md" x="54.44" y="431.76"/>
<use href="#md" x="56.96" y="427.43"/>
<use href="#md" x="59.47" y="423.16"/>
<use href="#md" x="61.99" y="419.22"/>
<use href="#md" x="64.5" y="415.83"/>
<use href="#md" x="67.02" y="413.12"/>
<use href="#md" x="69.53" y="411.15"/>
<use href="#md" x="72.05" y="409.86"/>
<use href="#md" x="74.56" y="409.13"/>
<use href="#md" x="77.07" y="408.8"/>
<use href="#md" x="79.59" y="408.67"/>
<use href="#md" x="82.1" y="408.8"/>
<use href="#md" x="84.62" y="409.55"/>
<use href="#md" x="87.13" y="410.88"/>
<use href="#md" x="89.65" y="412.7"/>
<use href="#md" x="92.16" y="414.9"/>
<use href="#md" x="94.68" y="417.32"/>
<use href="#md" x="97.19" y="419.82"/>
<use href="#md" x="99.7" y="422.25"/>
<use href="#md" x="102.22" y="424.46"/>
<use href="#md" x="104.73" y="426.33"/>
<use href="#md" x="107.25" y="427.76"/>
<use href="#md" x="109.76" y="428.67"/>
<use href="#md" x="112.28" y="429.01"/>
<use href="#md" x="114.79" y="428.77"/>
<use href="#md" x="117.31" y="427.95"/>
<use href="#md" x="119.82" y="426.59"/>
<use href="#md" x="122.33" y="424.78"/>
<use href="#md" x="124.85" y="422.58"/>
<use href="#md" x="127.36" y="420.11"/>
<use href="#md" x="129.88" y="417.49"/>
<use href="#md" x="132.39" y="414.84"/>
<use href="#md" x="134.91" y="412.31"/>
<use href="#md" x="137.42" y="410"/>
<use href="#md" x="139.94" y="408.05"/>
<use href="#md" x="142.45" y="406.54"/>
<use href="#md" x="144.96" y="405.57"/>
<use href="#md" x="147.48" y="405.18"/>
<use href="#md" x="149.99" y="405.21"/>
<use href="#md" x="152.51" y="405.41"/>
<use href="#md" x="155.02" y="405.96"/>
<use href="#md" x="157.54" y="407.05"/>
<use href="#md" x="160.05" y="408.83"/>
<use href="#md" x="162.57" y="411.38"/>
<use href="#md" x="165.08" y="414.7"/>
<use href="#md" x="167.59" y="418.7"/>
<use href="#md" x="170.11" y="423.18"/>
<use href="#md" x="172.62" y="427.86"/>
<use href="#md" x="175.14" y="432.44"/>
<use href="#md" x="177.65" y="436.63"/>
<use href="#md" x="180.17" y="440.21"/>
<use href="#md" x="182.68" y="443.07"/>
<use href="#md" x="185.2" y="445.18"/>
<use href="#md" x="187.71" y="446.63"/>
<use href="#md" x="190.22" y="447.54"/>
<use href="#md" x="192.74" y="448.08"/>
<use href="#md" x="195.25" y="448.36"/>
<use href="#md" x="197.77" y="448.5"/>
<use href="#md" x="200.28" y="448.56"/>
<use href="#md" x="202.8" y="448.59"/>
<use href="#md" x="205.31" y="448.6"/>
<use href="#md" x="207.83" y="448.6"/>
<use href="#md" x="210.34" y="448.6"/>
<use href="#md" x="212.85" y="448.6"/>
<use href="#md" x="215.37" y="448.6"/>
<use href="#md" x="217.88" y="448.6"/>
<use href="#md" x="220.4" y="448.6"/>
<use href="#md" x="222.91" y="448.6"/>
<use href="#md" x="225.43" y="448.6"/>
<use href="#md" x="227.94" y="448.6"/>
<use href="#md" x="230.46" y="448.6"/>
<use href="#md" x="232.97" y="448.6"/>
<use href="#md" x="235.48" y="448.6"/>
<use href="#md" x="238" y="448.6"/>
<use href="#md" x="240.51" y="448.6"/>
<use href="#md" x="243.03" y="448.6"/>
<use href="#md" x="245.54" y="448.6"/>
<use href="#md" x="248.06" y="448.6"/>
<use href="#md" x="250.57" y="448.6"/>
<use href="#md" x="253.09" y="448.6"/>
<use href="#md" x="255.6" y="448.6"/>
</g>
<g font-size="5.75" font-weight="bold" fill="#111" stroke-width="0.2">
<path d="M214.2,262.2h15.3" stroke="#000" stroke-width="1.6"/>
<text x="231.6" y="264.25" stroke="#111">true</text>
<g stroke="#ff0000"><path d="M214.2,270.9h15.3" stroke-width="0.6"/><use href="#mh" x="221.85" y="270.9"/></g>
<text x="231.6" y="272.95" stroke="#111">L2,2</text>
<g stroke="#ff00ff"><path d="M214.2,279.6h15.3" stroke-width="0.6"/><use href="#mo" x="221.85" y="279.6"/></g>
<text x="231.6" y="281.65" stroke="#111">L1,<tspan dx="0.5" dy="-0.5" font-size="6.4" stroke="none">∞</tspan></text>
<g stroke="#0000ff"><path d="M214.2,288.3h15.3" stroke-width="0.6" stroke-dasharray="0.8,1"/><use href="#ma" x="221.85" y="288.3"/></g>
<text x="231.6" y="290.35" stroke="#111">L1,2</text>
<g stroke="#00ffff"><path d="M214.2,297h15.3" stroke-width="0.6" stroke-dasharray="2,1,0.6,1"/><use href="#md" x="221.85" y="297"/></g>
<text x="231.6" y="299.05" stroke="#111">L2,<tspan dx="0.5" dy="-0.5" font-size="6.4" stroke="none">∞</tspan></text>
</g>
</g>
<g id="plot-d">
<rect x="320.3" y="254.8" width="221.7" height="194.4" fill="none" stroke="#3c3c3c" stroke-width="0.6"/>
<path d="M344.93,449.2v-2.2M344.93,254.8v2.2M369.57,449.2v-2.2M369.57,254.8v2.2M394.2,449.2v-2.2M394.2,254.8v2.2M418.83,449.2v-2.2M418.83,254.8v2.2M443.47,449.2v-2.2M443.47,254.8v2.2M468.1,449.2v-2.2M468.1,254.8v2.2M492.73,449.2v-2.2M492.73,254.8v2.2M517.37,449.2v-2.2M517.37,254.8v2.2M320.3,416.8h2.2M542,416.8h-2.2M320.3,384.4h2.2M542,384.4h-2.2M320.3,352h2.2M542,352h-2.2M320.3,319.6h2.2M542,319.6h-2.2M320.3,287.2h2.2M542,287.2h-2.2" stroke="#3c3c3c" stroke-width="0.6" fill="none"/>
<g font-size="7.2" fill="#222222" stroke="#222222" stroke-width="0.2">
<g text-anchor="middle">
<text x="320.3" y="459.9">0</text>
<text x="344.93" y="459.9">100</text>
<text x="369.57" y="459.9">200</text>
<text x="394.2" y="459.9">300</text>
<text x="418.83" y="459.9">400</text>
<text x="443.47" y="459.9">500</text>
<text x="468.1" y="459.9">600</text>
<text x="492.73" y="459.9">700</text>
<text x="517.37" y="459.9">800</text>
<text x="542" y="459.9">900</text>
</g>
<g text-anchor="end">
<text x="316.9" y="451.77">0</text>
<text x="316.9" y="419.37">0.02</text>
<text x="316.9" y="386.97">0.04</text>
<text x="316.9" y="354.57">0.06</text>
<text x="316.9" y="322.17">0.08</text>
<text x="316.9" y="289.77">0.1</text>
<text x="316.9" y="257.37">0.12</text>
</g>
<text x="431.15" y="469.7" text-anchor="middle">Diameter/nm</text>
<text transform="translate(299.2,352) rotate(-90)" text-anchor="middle">f(d)</text>
</g>
<text x="338.8" y="276.3" font-size="9.4" font-weight="bold" fill="#111">(d)</text>
<polyline points="320.3,449.2 352.2,449.2 354.91,448.55 357.62,444.34 360.33,420.04 363.04,352 365.75,300.65 368.46,288.5 371.17,313.12 373.88,361.72 376.59,407.08 379.3,433.81 382.01,444.66 384.72,448.23 387.43,449.2 390.14,449.2 392.85,449.2 395.55,449.2 398.26,449.19 400.97,449.16 403.68,449.07 406.39,448.85 409.1,448.32 411.81,447.21 414.52,445.1 417.23,441.55 419.94,436.15 422.65,428.81 425.36,419.86 428.07,410.13 430.78,400.77 433.49,392.97 436.2,387.6 438.91,384.92 441.62,384.42 444.33,385.99 447.04,389.85 449.75,395.58 452.46,402.59 455.17,410.21 457.88,417.82 460.59,424.89 463.3,431.09 466.01,436.21 468.72,440.24 471.43,443.25 474.14,445.4 476.84,446.86 479.55,447.82 482.26,448.41 484.97,448.77 487.68,448.97 490.39,449.08 493.1,449.14 495.81,449.17 498.52,449.19 501.23,449.19 503.94,449.2 506.65,449.2 509.36,449.2 512.07,449.2 514.78,449.2 517.49,449.2 520.2,449.2 522.91,449.2 525.62,449.2 528.33,449.2 531.04,449.2 533.75,449.2 536.46,449.2 539.17,449.2 541.88,449.2 542,449.2" fill="none" stroke="#000" stroke-width="1.6" stroke-linejoin="round"/>
<g stroke="#ff0000">
<polyline points="320.3,449.2 322.76,449.2 325.23,449.2 327.69,449.19 330.15,449.14 332.62,448.89 335.08,448 337.54,445.54 340.01,440.34 342.47,431.92 344.93,421.41 347.4,411.49 349.86,404.83 352.32,402.34 354.79,402.38 357.25,404.07 359.71,408.16 362.18,414.57 364.64,422.44 367.1,430.48 369.57,437.47 372.03,442.66 374.49,445.98 376.96,447.76 379.42,448.52 381.88,448.65 384.35,448.36 386.81,447.65 389.27,446.36 391.74,444.25 394.2,441.01 396.66,436.33 399.13,429.97 401.59,421.86 404.05,412.18 406.52,401.38 408.98,390.19 411.44,379.53 413.91,370.36 416.37,363.46 418.83,359.34 421.3,358 423.76,358.54 426.22,361.49 428.69,367.7 431.15,377.17 433.61,389.14 436.08,402.28 438.54,415.07 441,426.23 443.47,434.97 445.93,441.12 448.39,445.02 450.86,447.24 453.32,448.37 455.78,448.88 458.25,449.09 460.71,449.17 463.17,449.19 465.64,449.2 468.1,449.2 470.56,449.2 473.03,449.2 475.49,449.2 477.95,449.2 480.42,449.2 482.88,449.2 485.34,449.2 487.81,449.2 490.27,449.2 492.73,449.2 495.2,449.2 497.66,449.2 500.12,449.2 502.59,449.2 505.05,449.2 507.51,449.2 509.98,449.2 512.44,449.2 514.9,449.2 517.37,449.2 519.83,449.2 522.29,449.2 524.76,449.2 527.22,449.2 529.68,449.2 532.15,449.2 534.61,449.2 537.07,449.2 539.54,449.2 542,449.2" fill="none" stroke-width="0.6"/>
<use href="#mh" x="320.3" y="449.2"/>
<use href="#mh" x="322.76" y="449.2"/>
<use href="#mh" x="325.23" y="449.2"/>
<use href="#mh" x="327.69" y="449.19"/>
<use href="#mh" x="330.15" y="449.14"/>
<use href="#mh" x="332.62" y="448.89"/>
<use href="#mh" x="335.08" y="448"/>
<use href="#mh" x="337.54" y="445.54"/>
<use href="#mh" x="340.01" y="440.34"/>
<use href="#mh" x="342.47" y="431.92"/>
<use href="#mh" x="344.93" y="421.41"/>
<use href="#mh" x="347.4" y="411.49"/>
<use href="#mh" x="349.86" y="404.83"/>
<use href="#mh" x="352.32" y="402.34"/>
<use href="#mh" x="354.79" y="402.38"/>
<use href="#mh" x="357.25" y="404.07"/>
<use href="#mh" x="359.71" y="408.16"/>
<use href="#mh" x="362.18" y="414.57"/>
<use href="#mh" x="364.64" y="422.44"/>
<use href="#mh" x="367.1" y="430.48"/>
<use href="#mh" x="369.57" y="437.47"/>
<use href="#mh" x="372.03" y="442.66"/>
<use href="#mh" x="374.49" y="445.98"/>
<use href="#mh" x="376.96" y="447.76"/>
<use href="#mh" x="379.42" y="448.52"/>
<use href="#mh" x="381.88" y="448.65"/>
<use href="#mh" x="384.35" y="448.36"/>
<use href="#mh" x="386.81" y="447.65"/>
<use href="#mh" x="389.27" y="446.36"/>
<use href="#mh" x="391.74" y="444.25"/>
<use href="#mh" x="394.2" y="441.01"/>
<use href="#mh" x="396.66" y="436.33"/>
<use href="#mh" x="399.13" y="429.97"/>
<use href="#mh" x="401.59" y="421.86"/>
<use href="#mh" x="404.05" y="412.18"/>
<use href="#mh" x="406.52" y="401.38"/>
<use href="#mh" x="408.98" y="390.19"/>
<use href="#mh" x="411.44" y="379.53"/>
<use href="#mh" x="413.91" y="370.36"/>
<use href="#mh" x="416.37" y="363.46"/>
<use href="#mh" x="418.83" y="359.34"/>
<use href="#mh" x="421.3" y="358"/>
<use href="#mh" x="423.76" y="358.54"/>
<use href="#mh" x="426.22" y="361.49"/>
<use href="#mh" x="428.69" y="367.7"/>
<use href="#mh" x="431.15" y="377.17"/>
<use href="#mh" x="433.61" y="389.14"/>
<use href="#mh" x="436.08" y="402.28"/>
<use href="#mh" x="438.54" y="415.07"/>
<use href="#mh" x="441" y="426.23"/>
<use href="#mh" x="443.47" y="434.97"/>
<use href="#mh" x="445.93" y="441.12"/>
<use href="#mh" x="448.39" y="445.02"/>
<use href="#mh" x="450.86" y="447.24"/>
<use href="#mh" x="453.32" y="448.37"/>
<use href="#mh" x="455.78" y="448.88"/>
<use href="#mh" x="458.25" y="449.09"/>
<use href="#mh" x="460.71" y="449.17"/>
<use href="#mh" x="463.17" y="449.19"/>
<use href="#mh" x="465.64" y="449.2"/>
<use href="#mh" x="468.1" y="449.2"/>
<use href="#mh" x="470.56" y="449.2"/>
<use href="#mh" x="473.03" y="449.2"/>
<use href="#mh" x="475.49" y="449.2"/>
<use href="#mh" x="477.95" y="449.2"/>
<use href="#mh" x="480.42" y="449.2"/>
<use href="#mh" x="482.88" y="449.2"/>
<use href="#mh" x="485.34" y="449.2"/>
<use href="#mh" x="487.81" y="449.2"/>
<use href="#mh" x="490.27" y="449.2"/>
<use href="#mh" x="492.73" y="449.2"/>
<use href="#mh" x="495.2" y="449.2"/>
<use href="#mh" x="497.66" y="449.2"/>
<use href="#mh" x="500.12" y="449.2"/>
<use href="#mh" x="502.59" y="449.2"/>
<use href="#mh" x="505.05" y="449.2"/>
<use href="#mh" x="507.51" y="449.2"/>
<use href="#mh" x="509.98" y="449.2"/>
<use href="#mh" x="512.44" y="449.2"/>
<use href="#mh" x="514.9" y="449.2"/>
<use href="#mh" x="517.37" y="449.2"/>
<use href="#mh" x="519.83" y="449.2"/>
<use href="#mh" x="522.29" y="449.2"/>
<use href="#mh" x="524.76" y="449.2"/>
<use href="#mh" x="527.22" y="449.2"/>
<use href="#mh" x="529.68" y="449.2"/>
<use href="#mh" x="532.15" y="449.2"/>
<use href="#mh" x="534.61" y="449.2"/>
<use href="#mh" x="537.07" y="449.2"/>
<use href="#mh" x="539.54" y="449.2"/>
<use href="#mh" x="542" y="449.2"/>
</g>
<g stroke="#ff00ff">
<polyline points="320.3,449.2 322.76,449.2 325.23,449.2 327.69,449.2 330.15,449.2 332.62,449.2 335.08,449.2 337.54,449.18 340.01,449.12 342.47,448.93 344.93,448.41 347.4,447.19 349.86,444.68 352.32,440.18 354.79,433.12 357.25,423.36 359.71,411.56 362.18,399.09 364.64,387.69 367.1,378.92 369.57,373.6 372.03,371.58 374.49,371.57 376.96,373.42 379.42,378.3 381.88,386.42 384.35,397.14 386.81,409.11 389.27,420.77 391.74,430.75 394.2,438.33 396.66,443.41 399.13,446.44 401.59,448.02 404.05,448.75 406.52,449.05 408.98,449.16 411.44,449.19 413.91,449.2 416.37,449.2 418.83,449.18 421.3,449.06 423.76,448.59 426.22,447.12 428.69,443.61 431.15,436.98 433.61,427.02 436.08,414.9 438.54,402.85 441,393.09 443.47,386.8 445.93,383.86 448.39,383.12 450.86,383.17 453.32,384.43 455.78,388.59 458.25,396.68 460.71,408.29 463.17,421.39 465.64,433.18 468.1,441.61 470.56,446.33 473.03,448.36 475.49,449.01 477.95,449.17 480.42,449.2 482.88,449.2 485.34,449.2 487.81,449.2 490.27,449.2 492.73,449.2 495.2,449.2 497.66,449.2 500.12,449.2 502.59,449.2 505.05,449.2 507.51,449.2 509.98,449.2 512.44,449.2 514.9,449.2 517.37,449.2 519.83,449.2 522.29,449.2 524.76,449.2 527.22,449.2 529.68,449.2 532.15,449.2 534.61,449.2 537.07,449.2 539.54,449.2 542,449.2" fill="none" stroke-width="0.6"/>
<use href="#mo" x="320.3" y="449.2"/>
<use href="#mo" x="322.76" y="449.2"/>
<use href="#mo" x="325.23" y="449.2"/>
<use href="#mo" x="327.69" y="449.2"/>
<use href="#mo" x="330.15" y="449.2"/>
<use href="#mo" x="332.62" y="449.2"/>
<use href="#mo" x="335.08" y="449.2"/>
<use href="#mo" x="337.54" y="449.18"/>
<use href="#mo" x="340.01" y="449.12"/>
<use href="#mo" x="342.47" y="448.93"/>
<use href="#mo" x="344.93" y="448.41"/>
<use href="#mo" x="347.4" y="447.19"/>
<use href="#mo" x="349.86" y="444.68"/>
<use href="#mo" x="352.32" y="440.18"/>
<use href="#mo" x="354.79" y="433.12"/>
<use href="#mo" x="357.25" y="423.36"/>
<use href="#mo" x="359.71" y="411.56"/>
<use href="#mo" x="362.18" y="399.09"/>
<use href="#mo" x="364.64" y="387.69"/>
<use href="#mo" x="367.1" y="378.92"/>
<use href="#mo" x="369.57" y="373.6"/>
<use href="#mo" x="372.03" y="371.58"/>
<use href="#mo" x="374.49" y="371.57"/>
<use href="#mo" x="376.96" y="373.42"/>
<use href="#mo" x="379.42" y="378.3"/>
<use href="#mo" x="381.88" y="386.42"/>
<use href="#mo" x="384.35" y="397.14"/>
<use href="#mo" x="386.81" y="409.11"/>
<use href="#mo" x="389.27" y="420.77"/>
<use href="#mo" x="391.74" y="430.75"/>
<use href="#mo" x="394.2" y="438.33"/>
<use href="#mo" x="396.66" y="443.41"/>
<use href="#mo" x="399.13" y="446.44"/>
<use href="#mo" x="401.59" y="448.02"/>
<use href="#mo" x="404.05" y="448.75"/>
<use href="#mo" x="406.52" y="449.05"/>
<use href="#mo" x="408.98" y="449.16"/>
<use href="#mo" x="411.44" y="449.19"/>
<use href="#mo" x="413.91" y="449.2"/>
<use href="#mo" x="416.37" y="449.2"/>
<use href="#mo" x="418.83" y="449.18"/>
<use href="#mo" x="421.3" y="449.06"/>
<use href="#mo" x="423.76" y="448.59"/>
<use href="#mo" x="426.22" y="447.12"/>
<use href="#mo" x="428.69" y="443.61"/>
<use href="#mo" x="431.15" y="436.98"/>
<use href="#mo" x="433.61" y="427.02"/>
<use href="#mo" x="436.08" y="414.9"/>
<use href="#mo" x="438.54" y="402.85"/>
<use href="#mo" x="441" y="393.09"/>
<use href="#mo" x="443.47" y="386.8"/>
<use href="#mo" x="445.93" y="383.86"/>
<use href="#mo" x="448.39" y="383.12"/>
<use href="#mo" x="450.86" y="383.17"/>
<use href="#mo" x="453.32" y="384.43"/>
<use href="#mo" x="455.78" y="388.59"/>
<use href="#mo" x="458.25" y="396.68"/>
<use href="#mo" x="460.71" y="408.29"/>
<use href="#mo" x="463.17" y="421.39"/>
<use href="#mo" x="465.64" y="433.18"/>
<use href="#mo" x="468.1" y="441.61"/>
<use href="#mo" x="470.56" y="446.33"/>
<use href="#mo" x="473.03" y="448.36"/>
<use href="#mo" x="475.49" y="449.01"/>
<use href="#mo" x="477.95" y="449.17"/>
<use href="#mo" x="480.42" y="449.2"/>
<use href="#mo" x="482.88" y="449.2"/>
<use href="#mo" x="485.34" y="449.2"/>
<use href="#mo" x="487.81" y="449.2"/>
<use href="#mo" x="490.27" y="449.2"/>
<use href="#mo" x="492.73" y="449.2"/>
<use href="#mo" x="495.2" y="449.2"/>
<use href="#mo" x="497.66" y="449.2"/>
<use href="#mo" x="500.12" y="449.2"/>
<use href="#mo" x="502.59" y="449.2"/>
<use href="#mo" x="505.05" y="449.2"/>
<use href="#mo" x="507.51" y="449.2"/>
<use href="#mo" x="509.98" y="449.2"/>
<use href="#mo" x="512.44" y="449.2"/>
<use href="#mo" x="514.9" y="449.2"/>
<use href="#mo" x="517.37" y="449.2"/>
<use href="#mo" x="519.83" y="449.2"/>
<use href="#mo" x="522.29" y="449.2"/>
<use href="#mo" x="524.76" y="449.2"/>
<use href="#mo" x="527.22" y="449.2"/>
<use href="#mo" x="529.68" y="449.2"/>
<use href="#mo" x="532.15" y="449.2"/>
<use href="#mo" x="534.61" y="449.2"/>
<use href="#mo" x="537.07" y="449.2"/>
<use href="#mo" x="539.54" y="449.2"/>
<use href="#mo" x="542" y="449.2"/>
</g>
<g stroke="#0000ff">
<polyline points="320.3,449.2 322.76,449.2 325.23,449.2 327.69,449.19 330.15,449.18 332.62,449.14 335.08,449.05 337.54,448.82 340.01,448.33 342.47,447.38 344.93,445.67 347.4,442.89 349.86,438.75 352.32,433.11 354.79,426.04 357.25,417.96 359.71,409.52 362.18,401.51 364.64,394.7 367.1,389.64 369.57,386.53 372.03,385.21 374.49,385.06 376.96,385.47 379.42,386.77 381.88,389.21 384.35,392.87 386.81,397.67 389.27,403.43 391.74,409.82 394.2,416.46 396.66,422.96 399.13,428.97 401.59,434.22 404.05,438.58 406.52,441.99 408.98,444.51 411.44,446.25 413.91,447.35 416.37,447.92 418.83,448.02 421.3,447.67 423.76,446.83 426.22,445.42 428.69,443.38 431.15,440.67 433.61,437.35 436.08,433.55 438.54,429.51 441,425.53 443.47,421.92 445.93,418.93 448.39,416.74 450.86,415.38 453.32,414.79 455.78,414.7 458.25,414.86 460.71,415.4 463.17,416.4 465.64,417.91 468.1,419.91 470.56,422.36 473.03,425.16 475.49,428.23 477.95,431.43 480.42,434.62 482.88,437.7 485.34,440.56 487.81,443.13 490.27,445.34 492.73,447.19 495.2,448.69 497.66,449.2 500.12,449.2 502.59,449.2 505.05,449.2 507.51,449.2 509.98,449.2 512.44,449.2 514.9,449.2 517.37,449.2 519.83,449.2 522.29,449.2 524.76,449.2 527.22,449.2 529.68,449.2 532.15,449.2 534.61,449.2 537.07,449.2 539.54,449.2 542,449.2" fill="none" stroke-width="0.6" stroke-dasharray="0.8,1"/>
<use href="#ma" x="320.3" y="449.2"/>
<use href="#ma" x="322.76" y="449.2"/>
<use href="#ma" x="325.23" y="449.2"/>
<use href="#ma" x="327.69" y="449.19"/>
<use href="#ma" x="330.15" y="449.18"/>
<use href="#ma" x="332.62" y="449.14"/>
<use href="#ma" x="335.08" y="449.05"/>
<use href="#ma" x="337.54" y="448.82"/>
<use href="#ma" x="340.01" y="448.33"/>
<use href="#ma" x="342.47" y="447.38"/>
<use href="#ma" x="344.93" y="445.67"/>
<use href="#ma" x="347.4" y="442.89"/>
<use href="#ma" x="349.86" y="438.75"/>
<use href="#ma" x="352.32" y="433.11"/>
<use href="#ma" x="354.79" y="426.04"/>
<use href="#ma" x="357.25" y="417.96"/>
<use href="#ma" x="359.71" y="409.52"/>
<use href="#ma" x="362.18" y="401.51"/>
<use href="#ma" x="364.64" y="394.7"/>
<use href="#ma" x="367.1" y="389.64"/>
<use href="#ma" x="369.57" y="386.53"/>
<use href="#ma" x="372.03" y="385.21"/>
<use href="#ma" x="374.49" y="385.06"/>
<use href="#ma" x="376.96" y="385.47"/>
<use href="#ma" x="379.42" y="386.77"/>
<use href="#ma" x="381.88" y="389.21"/>
<use href="#ma" x="384.35" y="392.87"/>
<use href="#ma" x="386.81" y="397.67"/>
<use href="#ma" x="389.27" y="403.43"/>
<use href="#ma" x="391.74" y="409.82"/>
<use href="#ma" x="394.2" y="416.46"/>
<use href="#ma" x="396.66" y="422.96"/>
<use href="#ma" x="399.13" y="428.97"/>
<use href="#ma" x="401.59" y="434.22"/>
<use href="#ma" x="404.05" y="438.58"/>
<use href="#ma" x="406.52" y="441.99"/>
<use href="#ma" x="408.98" y="444.51"/>
<use href="#ma" x="411.44" y="446.25"/>
<use href="#ma" x="413.91" y="447.35"/>
<use href="#ma" x="416.37" y="447.92"/>
<use href="#ma" x="418.83" y="448.02"/>
<use href="#ma" x="421.3" y="447.67"/>
<use href="#ma" x="423.76" y="446.83"/>
<use href="#ma" x="426.22" y="445.42"/>
<use href="#ma" x="428.69" y="443.38"/>
<use href="#ma" x="431.15" y="440.67"/>
<use href="#ma" x="433.61" y="437.35"/>
<use href="#ma" x="436.08" y="433.55"/>
<use href="#ma" x="438.54" y="429.51"/>
<use href="#ma" x="441" y="425.53"/>
<use href="#ma" x="443.47" y="421.92"/>
<use href="#ma" x="445.93" y="418.93"/>
<use href="#ma" x="448.39" y="416.74"/>
<use href="#ma" x="450.86" y="415.38"/>
<use href="#ma" x="453.32" y="414.79"/>
<use href="#ma" x="455.78" y="414.7"/>
<use href="#ma" x="458.25" y="414.86"/>
<use href="#ma" x="460.71" y="415.4"/>
<use href="#ma" x="463.17" y="416.4"/>
<use href="#ma" x="465.64" y="417.91"/>
<use href="#ma" x="468.1" y="419.91"/>
<use href="#ma" x="470.56" y="422.36"/>
<use href="#ma" x="473.03" y="425.16"/>
<use href="#ma" x="475.49" y="428.23"/>
<use href="#ma" x="477.95" y="431.43"/>
<use href="#ma" x="480.42" y="434.62"/>
<use href="#ma" x="482.88" y="437.7"/>
<use href="#ma" x="485.34" y="440.56"/>
<use href="#ma" x="487.81" y="443.13"/>
<use href="#ma" x="490.27" y="445.34"/>
<use href="#ma" x="492.73" y="447.19"/>
<use href="#ma" x="495.2" y="448.69"/>
<use href="#ma" x="497.66" y="449.2"/>
<use href="#ma" x="500.12" y="449.2"/>
<use href="#ma" x="502.59" y="449.2"/>
<use href="#ma" x="505.05" y="449.2"/>
<use href="#ma" x="507.51" y="449.2"/>
<use href="#ma" x="509.98" y="449.2"/>
<use href="#ma" x="512.44" y="449.2"/>
<use href="#ma" x="514.9" y="449.2"/>
<use href="#ma" x="517.37" y="449.2"/>
<use href="#ma" x="519.83" y="449.2"/>
<use href="#ma" x="522.29" y="449.2"/>
<use href="#ma" x="524.76" y="449.2"/>
<use href="#ma" x="527.22" y="449.2"/>
<use href="#ma" x="529.68" y="449.2"/>
<use href="#ma" x="532.15" y="449.2"/>
<use href="#ma" x="534.61" y="449.2"/>
<use href="#ma" x="537.07" y="449.2"/>
<use href="#ma" x="539.54" y="449.2"/>
<use href="#ma" x="542" y="449.2"/>
</g>
<g stroke="#00ffff">
<polyline points="320.3,449.04 322.76,448.86 325.23,448.54 327.69,447.98 330.15,447.1 332.62,445.78 335.08,443.95 337.54,441.59 340.01,438.75 342.47,435.59 344.93,432.33 347.4,429.27 349.86,426.67 352.32,424.75 354.79,423.6 357.25,423.17 359.71,423.26 362.18,423.85 364.64,424.87 367.1,426.18 369.57,427.63 372.03,429.02 374.49,430.17 376.96,430.88 379.42,431 381.88,430.4 384.35,429.02 386.81,426.86 389.27,423.97 391.74,420.48 394.2,416.56 396.66,412.41 399.13,408.25 401.59,404.3 404.05,400.74 406.52,397.73 408.98,395.35 411.44,393.64 413.91,392.58 416.37,392.09 418.83,391.99 421.3,392.1 423.76,392.56 426.22,393.53 428.69,395.09 431.15,397.28 433.61,400.09 436.08,403.49 438.54,407.37 441,411.62 443.47,416.08 445.93,420.61 448.39,425.04 450.86,429.24 453.32,433.09 455.78,436.51 458.25,439.45 460.71,441.9 463.17,443.88 465.64,445.42 468.1,446.6 470.56,447.46 473.03,448.07 475.49,448.49 477.95,448.76 480.42,448.94 482.88,449.05 485.34,449.12 487.81,449.16 490.27,449.18 492.73,449.19 495.2,449.19 497.66,449.2 500.12,449.2 502.59,449.2 505.05,449.2 507.51,449.2 509.98,449.2 512.44,449.2 514.9,449.2 517.37,449.2 519.83,449.2 522.29,449.2 524.76,449.2 527.22,449.2 529.68,449.2 532.15,449.2 534.61,449.2 537.07,449.2 539.54,449.2 542,449.2" fill="none" stroke-width="0.6" stroke-dasharray="2,1,0.6,1"/>
<use href="#md" x="320.3" y="449.04"/>
<use href="#md" x="322.76" y="448.86"/>
<use href="#md" x="325.23" y="448.54"/>
<use href="#md" x="327.69" y="447.98"/>
<use href="#md" x="330.15" y="447.1"/>
<use href="#md" x="332.62" y="445.78"/>
<use href="#md" x="335.08" y="443.95"/>
<use href="#md" x="337.54" y="441.59"/>
<use href="#md" x="340.01" y="438.75"/>
<use href="#md" x="342.47" y="435.59"/>
<use href="#md" x="344.93" y="432.33"/>
<use href="#md" x="347.4" y="429.27"/>
<use href="#md" x="349.86" y="426.67"/>
<use href="#md" x="352.32" y="424.75"/>
<use href="#md" x="354.79" y="423.6"/>
<use href="#md" x="357.25" y="423.17"/>
<use href="#md" x="359.71" y="423.26"/>
<use href="#md" x="362.18" y="423.85"/>
<use href="#md" x="364.64" y="424.87"/>
<use href="#md" x="367.1" y="426.18"/>
<use href="#md" x="369.57" y="427.63"/>
<use href="#md" x="372.03" y="429.02"/>
<use href="#md" x="374.49" y="430.17"/>
<use href="#md" x="376.96" y="430.88"/>
<use href="#md" x="379.42" y="431"/>
<use href="#md" x="381.88" y="430.4"/>
<use href="#md" x="384.35" y="429.02"/>
<use href="#md" x="386.81" y="426.86"/>
<use href="#md" x="389.27" y="423.97"/>
<use href="#md" x="391.74" y="420.48"/>
<use href="#md" x="394.2" y="416.56"/>
<use href="#md" x="396.66" y="412.41"/>
<use href="#md" x="399.13" y="408.25"/>
<use href="#md" x="401.59" y="404.3"/>
<use href="#md" x="404.05" y="400.74"/>
<use href="#md" x="406.52" y="397.73"/>
<use href="#md" x="408.98" y="395.35"/>
<use href="#md" x="411.44" y="393.64"/>
<use href="#md" x="413.91" y="392.58"/>
<use href="#md" x="416.37" y="392.09"/>
<use href="#md" x="418.83" y="391.99"/>
<use href="#md" x="421.3" y="392.1"/>
<use href="#md" x="423.76" y="392.56"/>
<use href="#md" x="426.22" y="393.53"/>
<use href="#md" x="428.69" y="395.09"/>
<use href="#md" x="431.15" y="397.28"/>
<use href="#md" x="433.61" y="400.09"/>
<use href="#md" x="436.08" y="403.49"/>
<use href="#md" x="438.54" y="407.37"/>
<use href="#md" x="441" y="411.62"/>
<use href="#md" x="443.47" y="416.08"/>
<use href="#md" x="445.93" y="420.61"/>
<use href="#md" x="448.39" y="425.04"/>
<use href="#md" x="450.86" y="429.24"/>
<use href="#md" x="453.32" y="433.09"/>
<use href="#md" x="455.78" y="436.51"/>
<use href="#md" x="458.25" y="439.45"/>
<use href="#md" x="460.71" y="441.9"/>
<use href="#md" x="463.17" y="443.88"/>
<use href="#md" x="465.64" y="445.42"/>
<use href="#md" x="468.1" y="446.6"/>
<use href="#md" x="470.56" y="447.46"/>
<use href="#md" x="473.03" y="448.07"/>
<use href="#md" x="475.49" y="448.49"/>
<use href="#md" x="477.95" y="448.76"/>
<use href="#md" x="480.42" y="448.94"/>
<use href="#md" x="482.88" y="449.05"/>
<use href="#md" x="485.34" y="449.12"/>
<use href="#md" x="487.81" y="449.16"/>
<use href="#md" x="490.27" y="449.18"/>
<use href="#md" x="492.73" y="449.19"/>
<use href="#md" x="495.2" y="449.19"/>
<use href="#md" x="497.66" y="449.2"/>
<use href="#md" x="500.12" y="449.2"/>
<use href="#md" x="502.59" y="449.2"/>
<use href="#md" x="505.05" y="449.2"/>
<use href="#md" x="507.51" y="449.2"/>
<use href="#md" x="509.98" y="449.2"/>
<use href="#md" x="512.44" y="449.2"/>
<use href="#md" x="514.9" y="449.2"/>
<use href="#md" x="517.37" y="449.2"/>
<use href="#md" x="519.83" y="449.2"/>
<use href="#md" x="522.29" y="449.2"/>
<use href="#md" x="524.76" y="449.2"/>
<use href="#md" x="527.22" y="449.2"/>
<use href="#md" x="529.68" y="449.2"/>
<use href="#md" x="532.15" y="449.2"/>
<use href="#md" x="534.61" y="449.2"/>
<use href="#md" x="537.07" y="449.2"/>
<use href="#md" x="539.54" y="449.2"/>
<use href="#md" x="542" y="449.2"/>
</g>
<g font-size="5.75" font-weight="bold" fill="#111" stroke-width="0.2">
<path d="M501.8,266.5h15.3" stroke="#000" stroke-width="1.6"/>
<text x="519.2" y="268.55" stroke="#111">true</text>
<g stroke="#ff0000"><path d="M501.8,275h15.3" stroke-width="0.6"/><use href="#mh" x="509.45" y="275"/></g>
<text x="519.2" y="277.05" stroke="#111">L2,2</text>
<g stroke="#ff00ff"><path d="M501.8,283.5h15.3" stroke-width="0.6"/><use href="#mo" x="509.45" y="283.5"/></g>
<text x="519.2" y="285.55" stroke="#111">L1,<tspan dx="0.5" dy="-0.5" font-size="6.4" stroke="none">∞</tspan></text>
<g stroke="#0000ff"><path d="M501.8,292h15.3" stroke-width="0.6" stroke-dasharray="0.8,1"/><use href="#ma" x="509.45" y="292"/></g>
<text x="519.2" y="294.05" stroke="#111">L1,2</text>
<g stroke="#00ffff"><path d="M501.8,300.5h15.3" stroke-width="0.6" stroke-dasharray="2,1,0.6,1"/><use href="#md" x="509.45" y="300.5"/></g>
<text x="519.2" y="302.55" stroke="#111">L2,<tspan dx="0.5" dy="-0.5" font-size="6.4" stroke="none">∞</tspan></text>
</g>
</g>
</svg>
</body>
</html>
